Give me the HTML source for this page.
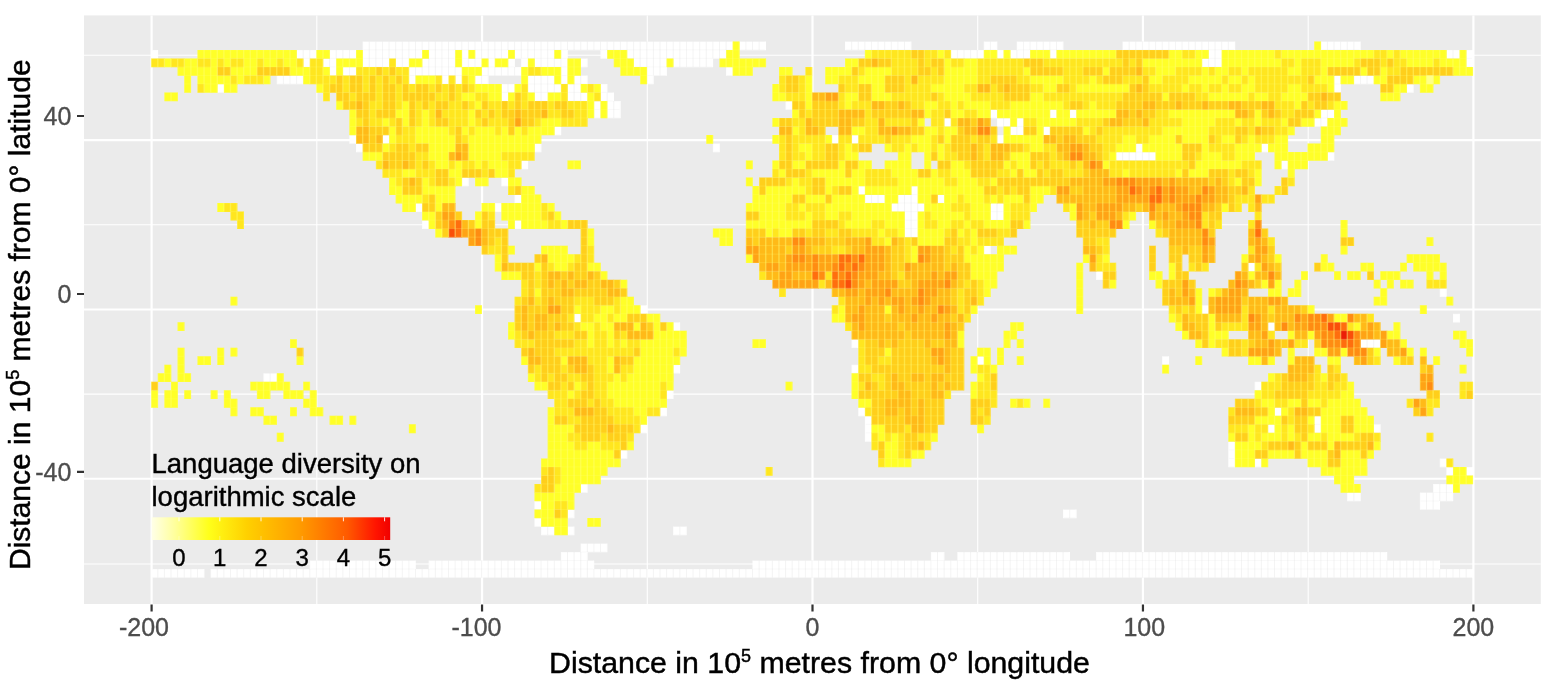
<!DOCTYPE html>
<html lang="en">
<head>
<meta charset="utf-8">
<title>Language diversity on logarithmic scale</title>
<style>
html,body{margin:0;padding:0;background:#fff;}
body{width:1552px;height:692px;overflow:hidden;position:relative;font-family:"Liberation Sans",Arial,Helvetica,sans-serif;}
svg{position:absolute;left:0;top:0;display:block;}
text{font-family:"Liberation Sans",Arial,Helvetica,sans-serif;}
.tick{fill:#4d4d4d;font-size:25px;stroke:#4d4d4d;stroke-width:.35px;}
.axt{fill:#000;font-size:30.3px;stroke:#000;stroke-width:.45px;}
.leg{fill:#000;font-size:27.5px;stroke:#000;stroke-width:.4px;}
.legn{fill:#000;font-size:24px;stroke:#000;stroke-width:.35px;}
</style>
</head>
<body>
<svg width="1552" height="692" viewBox="0 0 1552 692">
<defs>
<linearGradient id="lg" x1="0" x2="1" y1="0" y2="0">
<stop offset="0" stop-color="#ffffe8"/>
<stop offset="0.10" stop-color="#ffff9a"/>
<stop offset="0.24" stop-color="#ffff1a"/>
<stop offset="0.40" stop-color="#ffd000"/>
<stop offset="0.62" stop-color="#ff9c00"/>
<stop offset="0.82" stop-color="#ff5a00"/>
<stop offset="0.94" stop-color="#ff1400"/>
<stop offset="1" stop-color="#f00000"/>
</linearGradient>
</defs>
<rect x="0" y="0" width="1552" height="692" fill="#ffffff"/>
<!-- panel -->
<rect x="84" y="15.4" width="1456.8" height="588.6" fill="#ebebeb"/>
<g stroke="#ffffff" fill="none">
<g stroke-width="1.1">
<path d="M84 55.2H1540.8M84 224.8H1540.8M84 394.1H1540.8M84 564H1540.8"/>
<path d="M316.8 15.4V604M647.3 15.4V604M977.7 15.4V604M1308.2 15.4V604"/>
</g>
<g stroke-width="2.2">
<path d="M84 140.1H1540.8M84 309.5H1540.8M84 478.75H1540.8"/>
<path d="M151.6 15.4V604M482.05 15.4V604M812.5 15.4V604M1142.95 15.4V604M1473.4 15.4V604"/>
</g>
</g>
<g>
<path fill="#ffffff" d="M362.7 41.40h370.3v8.81h-370.3zM739.3 41.40h26.7v8.81h-26.7zM845.0 41.40h66.4v8.81h-66.4zM983.8 41.40h13.5v8.81h-13.5zM1016.8 41.40h46.6v8.81h-46.6zM1122.6 41.40h112.6v8.81h-112.6zM1320.8 41.40h39.9v8.81h-39.9zM151.2 49.91h6.9v8.81h-6.9zM296.6 49.91h20.1v8.81h-20.1zM329.6 49.91h26.7v8.81h-26.7zM362.7 49.91h59.8v8.81h-59.8zM428.7 49.91h26.7v8.81h-26.7zM461.8 49.91h6.9v8.81h-6.9zM475.0 49.91h33.3v8.81h-33.3zM514.6 49.91h39.9v8.81h-39.9zM560.9 49.91h6.9v8.81h-6.9zM600.5 49.91h6.9v8.81h-6.9zM627.0 49.91h99.4v8.81h-99.4zM950.8 49.91h33.3v8.81h-33.3zM997.0 49.91h6.9v8.81h-6.9zM1010.2 49.91h20.1v8.81h-20.1zM1049.9 49.91h6.9v8.81h-6.9zM1208.5 49.91h13.5v8.81h-13.5zM1446.4 49.91h13.5v8.81h-13.5zM1466.2 49.91h6.9v8.81h-6.9zM303.2 58.42h6.9v8.81h-6.9zM323.0 58.42h13.5v8.81h-13.5zM362.7 58.42h26.7v8.81h-26.7zM395.7 58.42h13.5v8.81h-13.5zM422.1 58.42h33.3v8.81h-33.3zM461.8 58.42h20.1v8.81h-20.1zM488.2 58.42h6.9v8.81h-6.9zM508.0 58.42h6.9v8.81h-6.9zM521.2 58.42h6.9v8.81h-6.9zM534.5 58.42h33.3v8.81h-33.3zM580.7 58.42h6.9v8.81h-6.9zM633.6 58.42h33.3v8.81h-33.3zM673.2 58.42h39.9v8.81h-39.9zM1201.9 58.42h20.1v8.81h-20.1zM1466.2 58.42h6.9v8.81h-6.9zM329.6 66.93h6.9v8.81h-6.9zM342.8 66.93h13.5v8.81h-13.5zM408.9 66.93h53.2v8.81h-53.2zM481.6 66.93h39.9v8.81h-39.9zM560.9 66.93h6.9v8.81h-6.9zM646.8 66.93h20.1v8.81h-20.1zM726.1 66.93h6.9v8.81h-6.9zM276.8 75.44h26.7v8.81h-26.7zM408.9 75.44h6.9v8.81h-6.9zM442.0 75.44h6.9v8.81h-6.9zM455.2 75.44h6.9v8.81h-6.9zM475.0 75.44h13.5v8.81h-13.5zM527.9 75.44h26.7v8.81h-26.7zM560.9 75.44h6.9v8.81h-6.9zM574.1 75.44h13.5v8.81h-13.5zM646.8 75.44h6.9v8.81h-6.9zM1334.0 75.44h6.9v8.81h-6.9zM1353.9 75.44h20.1v8.81h-20.1zM217.3 83.95h6.9v8.81h-6.9zM501.4 83.95h13.5v8.81h-13.5zM527.9 83.95h33.3v8.81h-33.3zM567.5 83.95h13.5v8.81h-13.5zM600.5 83.95h6.9v8.81h-6.9zM1334.0 83.95h6.9v8.81h-6.9zM1406.7 83.95h6.9v8.81h-6.9zM501.4 92.46h6.9v8.81h-6.9zM534.5 92.46h13.5v8.81h-13.5zM567.5 92.46h20.1v8.81h-20.1zM600.5 92.46h13.5v8.81h-13.5zM593.9 100.97h6.9v8.81h-6.9zM607.2 100.97h13.5v8.81h-13.5zM785.6 100.97h6.9v8.81h-6.9zM593.9 109.48h6.9v8.81h-6.9zM607.2 109.48h13.5v8.81h-13.5zM990.4 109.48h6.9v8.81h-6.9zM1049.9 109.48h6.9v8.81h-6.9zM1069.7 109.48h6.9v8.81h-6.9zM1320.8 109.48h13.5v8.81h-13.5zM944.2 117.99h6.9v8.81h-6.9zM997.0 117.99h13.5v8.81h-13.5zM1016.8 117.99h6.9v8.81h-6.9zM1314.2 117.99h13.5v8.81h-13.5zM554.3 126.50h6.9v8.81h-6.9zM1010.2 126.50h13.5v8.81h-13.5zM1043.3 126.50h6.9v8.81h-6.9zM349.4 135.01h6.9v8.81h-6.9zM382.5 135.01h6.9v8.81h-6.9zM831.8 135.01h6.9v8.81h-6.9zM851.6 135.01h6.9v8.81h-6.9zM997.0 135.01h6.9v8.81h-6.9zM356.0 143.52h6.9v8.81h-6.9zM534.5 143.52h6.9v8.81h-6.9zM712.9 143.52h6.9v8.81h-6.9zM1135.8 143.52h6.9v8.81h-6.9zM1261.3 143.52h6.9v8.81h-6.9zM1116.0 152.03h39.9v8.81h-39.9zM1327.4 152.03h6.9v8.81h-6.9zM521.2 160.54h6.9v8.81h-6.9zM1281.2 160.54h6.9v8.81h-6.9zM461.8 177.56h6.9v8.81h-6.9zM501.4 177.56h6.9v8.81h-6.9zM858.3 186.07h6.9v8.81h-6.9zM911.1 186.07h6.9v8.81h-6.9zM514.6 194.58h6.9v8.81h-6.9zM864.9 194.58h20.1v8.81h-20.1zM897.9 194.58h20.1v8.81h-20.1zM937.6 194.58h6.9v8.81h-6.9zM415.5 203.09h6.9v8.81h-6.9zM494.8 203.09h6.9v8.81h-6.9zM891.3 203.09h33.3v8.81h-33.3zM990.4 203.09h13.5v8.81h-13.5zM904.5 211.60h13.5v8.81h-13.5zM990.4 211.60h13.5v8.81h-13.5zM422.1 220.11h6.9v8.81h-6.9zM514.6 220.11h6.9v8.81h-6.9zM904.5 220.11h13.5v8.81h-13.5zM904.5 228.62h13.5v8.81h-13.5zM983.8 245.64h6.9v8.81h-6.9zM1248.1 262.66h6.9v8.81h-6.9zM1096.1 271.17h6.9v8.81h-6.9zM1439.8 288.19h6.9v8.81h-6.9zM640.2 305.21h6.9v8.81h-6.9zM1201.9 305.21h6.9v8.81h-6.9zM574.1 313.72h6.9v8.81h-6.9zM1453.0 313.72h6.9v8.81h-6.9zM673.2 322.23h6.9v8.81h-6.9zM1268.0 322.23h6.9v8.81h-6.9zM851.6 339.25h6.9v8.81h-6.9zM1360.5 339.25h20.1v8.81h-20.1zM977.2 356.27h6.9v8.81h-6.9zM1162.2 356.27h6.9v8.81h-6.9zM673.2 364.78h6.9v8.81h-6.9zM851.6 364.78h6.9v8.81h-6.9zM263.5 373.29h13.5v8.81h-13.5zM1254.7 381.80h6.9v8.81h-6.9zM666.6 390.31h6.9v8.81h-6.9zM660.0 407.33h6.9v8.81h-6.9zM858.3 407.33h6.9v8.81h-6.9zM1274.6 407.33h6.9v8.81h-6.9zM864.9 415.84h6.9v8.81h-6.9zM1314.2 415.84h6.9v8.81h-6.9zM640.2 424.35h6.9v8.81h-6.9zM864.9 424.35h6.9v8.81h-6.9zM1268.0 424.35h6.9v8.81h-6.9zM1314.2 424.35h6.9v8.81h-6.9zM1373.7 424.35h6.9v8.81h-6.9zM864.9 432.86h6.9v8.81h-6.9zM1228.3 441.37h6.9v8.81h-6.9zM620.4 449.88h6.9v8.81h-6.9zM1228.3 449.88h6.9v8.81h-6.9zM1228.3 458.39h6.9v8.81h-6.9zM1254.7 458.39h6.9v8.81h-6.9zM1439.8 458.39h6.9v8.81h-6.9zM1446.4 466.90h6.9v8.81h-6.9zM1466.2 466.90h6.9v8.81h-6.9zM580.7 483.92h6.9v8.81h-6.9zM1433.2 483.92h20.1v8.81h-20.1zM1347.2 492.43h13.5v8.81h-13.5zM1419.9 492.43h33.3v8.81h-33.3zM534.5 500.94h6.9v8.81h-6.9zM1419.9 500.94h20.1v8.81h-20.1zM567.5 509.45h6.9v8.81h-6.9zM1063.1 509.45h13.5v8.81h-13.5zM534.5 517.96h6.9v8.81h-6.9zM541.1 526.47h13.5v8.81h-13.5zM567.5 526.47h6.9v8.81h-6.9zM673.2 526.47h13.5v8.81h-13.5zM580.7 543.49h26.7v8.81h-26.7zM560.9 552.00h26.7v8.81h-26.7zM930.9 552.00h13.5v8.81h-13.5zM957.4 552.00h112.6v8.81h-112.6zM1096.1 552.00h291.1v8.81h-291.1zM309.8 560.51h106.0v8.81h-106.0zM428.7 560.51h165.5v8.81h-165.5zM752.5 560.51h687.5v8.81h-687.5zM151.2 569.02h53.2v8.81h-53.2zM210.7 569.02h1262.4v8.81h-1262.4z"/>
<path fill="#ffff28" d="M732.7 41.40h6.9v8.81h-6.9zM1314.2 41.40h6.9v8.81h-6.9zM197.5 49.91h99.4v8.81h-99.4zM316.4 49.91h13.5v8.81h-13.5zM356.0 49.91h6.9v8.81h-6.9zM422.1 49.91h6.9v8.81h-6.9zM455.2 49.91h6.9v8.81h-6.9zM468.4 49.91h6.9v8.81h-6.9zM508.0 49.91h6.9v8.81h-6.9zM554.3 49.91h6.9v8.81h-6.9zM607.2 49.91h20.1v8.81h-20.1zM726.1 49.91h13.5v8.81h-13.5zM864.9 49.91h6.9v8.81h-6.9zM937.6 49.91h6.9v8.81h-6.9zM983.8 49.91h13.5v8.81h-13.5zM1003.6 49.91h6.9v8.81h-6.9zM1030.1 49.91h20.1v8.81h-20.1zM1056.5 49.91h59.8v8.81h-59.8zM1168.8 49.91h13.5v8.81h-13.5zM1195.3 49.91h13.5v8.81h-13.5zM1221.7 49.91h53.2v8.81h-53.2zM1281.2 49.91h92.8v8.81h-92.8zM1386.9 49.91h6.9v8.81h-6.9zM1400.1 49.91h46.6v8.81h-46.6zM1459.6 49.91h6.9v8.81h-6.9zM164.4 58.42h6.9v8.81h-6.9zM184.2 58.42h13.5v8.81h-13.5zM210.7 58.42h6.9v8.81h-6.9zM223.9 58.42h6.9v8.81h-6.9zM243.7 58.42h13.5v8.81h-13.5zM263.5 58.42h13.5v8.81h-13.5zM283.4 58.42h13.5v8.81h-13.5zM336.2 58.42h26.7v8.81h-26.7zM408.9 58.42h13.5v8.81h-13.5zM455.2 58.42h6.9v8.81h-6.9zM481.6 58.42h6.9v8.81h-6.9zM494.8 58.42h13.5v8.81h-13.5zM527.9 58.42h6.9v8.81h-6.9zM567.5 58.42h13.5v8.81h-13.5zM613.8 58.42h20.1v8.81h-20.1zM666.6 58.42h6.9v8.81h-6.9zM719.5 58.42h46.6v8.81h-46.6zM845.0 58.42h13.5v8.81h-13.5zM944.2 58.42h6.9v8.81h-6.9zM964.0 58.42h13.5v8.81h-13.5zM1142.4 58.42h59.8v8.81h-59.8zM1221.7 58.42h59.8v8.81h-59.8zM1294.4 58.42h6.9v8.81h-6.9zM1320.8 58.42h33.3v8.81h-33.3zM1406.7 58.42h26.7v8.81h-26.7zM1439.8 58.42h26.7v8.81h-26.7zM177.6 66.93h39.9v8.81h-39.9zM230.5 66.93h26.7v8.81h-26.7zM290.0 66.93h20.1v8.81h-20.1zM323.0 66.93h6.9v8.81h-6.9zM336.2 66.93h6.9v8.81h-6.9zM461.8 66.93h20.1v8.81h-20.1zM521.2 66.93h6.9v8.81h-6.9zM541.1 66.93h20.1v8.81h-20.1zM567.5 66.93h13.5v8.81h-13.5zM620.4 66.93h26.7v8.81h-26.7zM732.7 66.93h20.1v8.81h-20.1zM779.0 66.93h13.5v8.81h-13.5zM825.2 66.93h26.7v8.81h-26.7zM864.9 66.93h26.7v8.81h-26.7zM944.2 66.93h33.3v8.81h-33.3zM1023.5 66.93h6.9v8.81h-6.9zM1102.8 66.93h6.9v8.81h-6.9zM1155.6 66.93h20.1v8.81h-20.1zM1201.9 66.93h6.9v8.81h-6.9zM1215.1 66.93h13.5v8.81h-13.5zM1241.5 66.93h6.9v8.81h-6.9zM1287.8 66.93h13.5v8.81h-13.5zM1320.8 66.93h6.9v8.81h-6.9zM1360.5 66.93h6.9v8.81h-6.9zM1380.3 66.93h6.9v8.81h-6.9zM1453.0 66.93h20.1v8.81h-20.1zM184.2 75.44h6.9v8.81h-6.9zM197.5 75.44h33.3v8.81h-33.3zM237.1 75.44h6.9v8.81h-6.9zM263.5 75.44h6.9v8.81h-6.9zM303.2 75.44h6.9v8.81h-6.9zM415.5 75.44h20.1v8.81h-20.1zM468.4 75.44h6.9v8.81h-6.9zM521.2 75.44h6.9v8.81h-6.9zM554.3 75.44h6.9v8.81h-6.9zM567.5 75.44h6.9v8.81h-6.9zM640.2 75.44h6.9v8.81h-6.9zM805.4 75.44h6.9v8.81h-6.9zM825.2 75.44h13.5v8.81h-13.5zM858.3 75.44h26.7v8.81h-26.7zM944.2 75.44h33.3v8.81h-33.3zM1030.1 75.44h33.3v8.81h-33.3zM1089.5 75.44h6.9v8.81h-6.9zM1149.0 75.44h13.5v8.81h-13.5zM1188.7 75.44h33.3v8.81h-33.3zM1228.3 75.44h13.5v8.81h-13.5zM1248.1 75.44h6.9v8.81h-6.9zM1314.2 75.44h20.1v8.81h-20.1zM1340.6 75.44h13.5v8.81h-13.5zM1373.7 75.44h13.5v8.81h-13.5zM1413.3 75.44h13.5v8.81h-13.5zM1433.2 75.44h6.9v8.81h-6.9zM184.2 83.95h6.9v8.81h-6.9zM204.1 83.95h13.5v8.81h-13.5zM223.9 83.95h13.5v8.81h-13.5zM316.4 83.95h6.9v8.81h-6.9zM475.0 83.95h26.7v8.81h-26.7zM514.6 83.95h6.9v8.81h-6.9zM580.7 83.95h6.9v8.81h-6.9zM593.9 83.95h6.9v8.81h-6.9zM772.4 83.95h6.9v8.81h-6.9zM805.4 83.95h6.9v8.81h-6.9zM871.5 83.95h13.5v8.81h-13.5zM930.9 83.95h33.3v8.81h-33.3zM1043.3 83.95h13.5v8.81h-13.5zM1076.3 83.95h53.2v8.81h-53.2zM1182.0 83.95h6.9v8.81h-6.9zM1201.9 83.95h6.9v8.81h-6.9zM1221.7 83.95h6.9v8.81h-6.9zM1241.5 83.95h13.5v8.81h-13.5zM1287.8 83.95h13.5v8.81h-13.5zM1327.4 83.95h6.9v8.81h-6.9zM1393.5 83.95h13.5v8.81h-13.5zM1419.9 83.95h13.5v8.81h-13.5zM164.4 92.46h13.5v8.81h-13.5zM461.8 92.46h13.5v8.81h-13.5zM488.2 92.46h13.5v8.81h-13.5zM508.0 92.46h6.9v8.81h-6.9zM527.9 92.46h6.9v8.81h-6.9zM547.7 92.46h13.5v8.81h-13.5zM587.3 92.46h6.9v8.81h-6.9zM772.4 92.46h13.5v8.81h-13.5zM805.4 92.46h6.9v8.81h-6.9zM845.0 92.46h13.5v8.81h-13.5zM871.5 92.46h20.1v8.81h-20.1zM944.2 92.46h26.7v8.81h-26.7zM1030.1 92.46h13.5v8.81h-13.5zM1162.2 92.46h6.9v8.81h-6.9zM1208.5 92.46h39.9v8.81h-39.9zM1254.7 92.46h13.5v8.81h-13.5zM1281.2 92.46h26.7v8.81h-26.7zM1380.3 92.46h20.1v8.81h-20.1zM336.2 100.97h6.9v8.81h-6.9zM402.3 100.97h6.9v8.81h-6.9zM475.0 100.97h6.9v8.81h-6.9zM587.3 100.97h6.9v8.81h-6.9zM600.5 100.97h6.9v8.81h-6.9zM805.4 100.97h6.9v8.81h-6.9zM845.0 100.97h6.9v8.81h-6.9zM924.3 100.97h13.5v8.81h-13.5zM950.8 100.97h6.9v8.81h-6.9zM964.0 100.97h26.7v8.81h-26.7zM1010.2 100.97h53.2v8.81h-53.2zM1089.5 100.97h6.9v8.81h-6.9zM1294.4 100.97h6.9v8.81h-6.9zM1334.0 100.97h13.5v8.81h-13.5zM349.4 109.48h6.9v8.81h-6.9zM395.7 109.48h13.5v8.81h-13.5zM422.1 109.48h6.9v8.81h-6.9zM468.4 109.48h6.9v8.81h-6.9zM587.3 109.48h6.9v8.81h-6.9zM600.5 109.48h6.9v8.81h-6.9zM792.2 109.48h6.9v8.81h-6.9zM924.3 109.48h6.9v8.81h-6.9zM950.8 109.48h13.5v8.81h-13.5zM977.2 109.48h13.5v8.81h-13.5zM997.0 109.48h53.2v8.81h-53.2zM1056.5 109.48h13.5v8.81h-13.5zM1076.3 109.48h39.9v8.81h-39.9zM1168.8 109.48h66.4v8.81h-66.4zM1254.7 109.48h6.9v8.81h-6.9zM1314.2 109.48h6.9v8.81h-6.9zM1334.0 109.48h6.9v8.81h-6.9zM349.4 117.99h6.9v8.81h-6.9zM382.5 117.99h6.9v8.81h-6.9zM402.3 117.99h6.9v8.81h-6.9zM422.1 117.99h6.9v8.81h-6.9zM468.4 117.99h6.9v8.81h-6.9zM541.1 117.99h20.1v8.81h-20.1zM772.4 117.99h6.9v8.81h-6.9zM917.7 117.99h6.9v8.81h-6.9zM1010.2 117.99h6.9v8.81h-6.9zM1036.7 117.99h39.9v8.81h-39.9zM1182.0 117.99h33.3v8.81h-33.3zM1234.9 117.99h6.9v8.81h-6.9zM1254.7 117.99h6.9v8.81h-6.9zM1281.2 117.99h6.9v8.81h-6.9zM1301.0 117.99h13.5v8.81h-13.5zM1327.4 117.99h20.1v8.81h-20.1zM349.4 126.50h6.9v8.81h-6.9zM389.1 126.50h6.9v8.81h-6.9zM415.5 126.50h33.3v8.81h-33.3zM461.8 126.50h6.9v8.81h-6.9zM475.0 126.50h20.1v8.81h-20.1zM501.4 126.50h6.9v8.81h-6.9zM514.6 126.50h6.9v8.81h-6.9zM527.9 126.50h26.7v8.81h-26.7zM792.2 126.50h6.9v8.81h-6.9zM851.6 126.50h13.5v8.81h-13.5zM924.3 126.50h13.5v8.81h-13.5zM944.2 126.50h13.5v8.81h-13.5zM1003.6 126.50h6.9v8.81h-6.9zM1036.7 126.50h6.9v8.81h-6.9zM1082.9 126.50h6.9v8.81h-6.9zM1162.2 126.50h46.6v8.81h-46.6zM1287.8 126.50h6.9v8.81h-6.9zM1320.8 126.50h20.1v8.81h-20.1zM389.1 135.01h6.9v8.81h-6.9zM415.5 135.01h39.9v8.81h-39.9zM468.4 135.01h73.0v8.81h-73.0zM706.3 135.01h6.9v8.81h-6.9zM772.4 135.01h6.9v8.81h-6.9zM825.2 135.01h6.9v8.81h-6.9zM911.1 135.01h20.1v8.81h-20.1zM944.2 135.01h6.9v8.81h-6.9zM1003.6 135.01h39.9v8.81h-39.9zM1122.6 135.01h13.5v8.81h-13.5zM1149.0 135.01h26.7v8.81h-26.7zM1182.0 135.01h26.7v8.81h-26.7zM1221.7 135.01h13.5v8.81h-13.5zM1248.1 135.01h6.9v8.81h-6.9zM1274.6 135.01h13.5v8.81h-13.5zM1320.8 135.01h13.5v8.81h-13.5zM382.5 143.52h6.9v8.81h-6.9zM428.7 143.52h26.7v8.81h-26.7zM468.4 143.52h66.4v8.81h-66.4zM798.8 143.52h13.5v8.81h-13.5zM845.0 143.52h6.9v8.81h-6.9zM884.7 143.52h6.9v8.81h-6.9zM904.5 143.52h6.9v8.81h-6.9zM917.7 143.52h13.5v8.81h-13.5zM937.6 143.52h6.9v8.81h-6.9zM1030.1 143.52h13.5v8.81h-13.5zM1116.0 143.52h20.1v8.81h-20.1zM1142.4 143.52h39.9v8.81h-39.9zM1201.9 143.52h6.9v8.81h-6.9zM1234.9 143.52h26.7v8.81h-26.7zM1268.0 143.52h20.1v8.81h-20.1zM1307.6 143.52h26.7v8.81h-26.7zM362.7 152.03h20.1v8.81h-20.1zM428.7 152.03h20.1v8.81h-20.1zM468.4 152.03h33.3v8.81h-33.3zM805.4 152.03h6.9v8.81h-6.9zM845.0 152.03h13.5v8.81h-13.5zM897.9 152.03h13.5v8.81h-13.5zM924.3 152.03h6.9v8.81h-6.9zM937.6 152.03h6.9v8.81h-6.9zM1010.2 152.03h20.1v8.81h-20.1zM1109.4 152.03h6.9v8.81h-6.9zM1155.6 152.03h26.7v8.81h-26.7zM1201.9 152.03h20.1v8.81h-20.1zM1234.9 152.03h20.1v8.81h-20.1zM1274.6 152.03h53.2v8.81h-53.2zM435.3 160.54h13.5v8.81h-13.5zM455.2 160.54h6.9v8.81h-6.9zM475.0 160.54h6.9v8.81h-6.9zM488.2 160.54h20.1v8.81h-20.1zM567.5 160.54h13.5v8.81h-13.5zM745.9 160.54h6.9v8.81h-6.9zM772.4 160.54h6.9v8.81h-6.9zM792.2 160.54h13.5v8.81h-13.5zM838.4 160.54h6.9v8.81h-6.9zM858.3 160.54h13.5v8.81h-13.5zM884.7 160.54h26.7v8.81h-26.7zM924.3 160.54h6.9v8.81h-6.9zM950.8 160.54h13.5v8.81h-13.5zM1003.6 160.54h6.9v8.81h-6.9zM1016.8 160.54h13.5v8.81h-13.5zM1102.8 160.54h6.9v8.81h-6.9zM1195.3 160.54h46.6v8.81h-46.6zM1274.6 160.54h6.9v8.81h-6.9zM1287.8 160.54h20.1v8.81h-20.1zM402.3 169.05h13.5v8.81h-13.5zM448.6 169.05h13.5v8.81h-13.5zM494.8 169.05h13.5v8.81h-13.5zM779.0 169.05h6.9v8.81h-6.9zM812.0 169.05h33.3v8.81h-33.3zM851.6 169.05h13.5v8.81h-13.5zM891.3 169.05h26.7v8.81h-26.7zM930.9 169.05h6.9v8.81h-6.9zM950.8 169.05h20.1v8.81h-20.1zM1010.2 169.05h6.9v8.81h-6.9zM1023.5 169.05h13.5v8.81h-13.5zM1122.6 169.05h6.9v8.81h-6.9zM1175.4 169.05h6.9v8.81h-6.9zM1188.7 169.05h20.1v8.81h-20.1zM1254.7 169.05h6.9v8.81h-6.9zM1287.8 169.05h6.9v8.81h-6.9zM389.1 177.56h6.9v8.81h-6.9zM422.1 177.56h6.9v8.81h-6.9zM455.2 177.56h6.9v8.81h-6.9zM475.0 177.56h13.5v8.81h-13.5zM508.0 177.56h13.5v8.81h-13.5zM745.9 177.56h6.9v8.81h-6.9zM792.2 177.56h6.9v8.81h-6.9zM825.2 177.56h39.9v8.81h-39.9zM897.9 177.56h46.6v8.81h-46.6zM957.4 177.56h20.1v8.81h-20.1zM990.4 177.56h6.9v8.81h-6.9zM1234.9 177.56h6.9v8.81h-6.9zM1254.7 177.56h6.9v8.81h-6.9zM389.1 186.07h13.5v8.81h-13.5zM422.1 186.07h33.3v8.81h-33.3zM521.2 186.07h13.5v8.81h-13.5zM752.5 186.07h6.9v8.81h-6.9zM765.7 186.07h39.9v8.81h-39.9zM825.2 186.07h6.9v8.81h-6.9zM851.6 186.07h6.9v8.81h-6.9zM864.9 186.07h46.6v8.81h-46.6zM917.7 186.07h66.4v8.81h-66.4zM1030.1 186.07h20.1v8.81h-20.1zM395.7 194.58h26.7v8.81h-26.7zM435.3 194.58h20.1v8.81h-20.1zM521.2 194.58h20.1v8.81h-20.1zM752.5 194.58h39.9v8.81h-39.9zM805.4 194.58h20.1v8.81h-20.1zM831.8 194.58h33.3v8.81h-33.3zM884.7 194.58h13.5v8.81h-13.5zM917.7 194.58h13.5v8.81h-13.5zM944.2 194.58h13.5v8.81h-13.5zM964.0 194.58h20.1v8.81h-20.1zM990.4 194.58h6.9v8.81h-6.9zM1003.6 194.58h20.1v8.81h-20.1zM1030.1 194.58h13.5v8.81h-13.5zM217.3 203.09h6.9v8.81h-6.9zM402.3 203.09h13.5v8.81h-13.5zM435.3 203.09h6.9v8.81h-6.9zM481.6 203.09h13.5v8.81h-13.5zM501.4 203.09h39.9v8.81h-39.9zM547.7 203.09h6.9v8.81h-6.9zM745.9 203.09h39.9v8.81h-39.9zM798.8 203.09h6.9v8.81h-6.9zM825.2 203.09h66.4v8.81h-66.4zM924.3 203.09h26.7v8.81h-26.7zM970.6 203.09h20.1v8.81h-20.1zM1003.6 203.09h6.9v8.81h-6.9zM1030.1 203.09h6.9v8.81h-6.9zM1069.7 203.09h6.9v8.81h-6.9zM1221.7 203.09h6.9v8.81h-6.9zM422.1 211.60h13.5v8.81h-13.5zM475.0 211.60h6.9v8.81h-6.9zM501.4 211.60h39.9v8.81h-39.9zM554.3 211.60h6.9v8.81h-6.9zM759.1 211.60h26.7v8.81h-26.7zM805.4 211.60h6.9v8.81h-6.9zM825.2 211.60h13.5v8.81h-13.5zM851.6 211.60h53.2v8.81h-53.2zM917.7 211.60h6.9v8.81h-6.9zM930.9 211.60h33.3v8.81h-33.3zM970.6 211.60h20.1v8.81h-20.1zM1003.6 211.60h6.9v8.81h-6.9zM1069.7 211.60h6.9v8.81h-6.9zM1129.2 211.60h6.9v8.81h-6.9zM428.7 220.11h6.9v8.81h-6.9zM475.0 220.11h6.9v8.81h-6.9zM508.0 220.11h6.9v8.81h-6.9zM521.2 220.11h26.7v8.81h-26.7zM560.9 220.11h6.9v8.81h-6.9zM745.9 220.11h66.4v8.81h-66.4zM845.0 220.11h26.7v8.81h-26.7zM884.7 220.11h20.1v8.81h-20.1zM917.7 220.11h6.9v8.81h-6.9zM937.6 220.11h13.5v8.81h-13.5zM964.0 220.11h6.9v8.81h-6.9zM983.8 220.11h26.7v8.81h-26.7zM1023.5 220.11h6.9v8.81h-6.9zM1122.6 220.11h6.9v8.81h-6.9zM1149.0 220.11h6.9v8.81h-6.9zM1340.6 220.11h6.9v8.81h-6.9zM435.3 228.62h6.9v8.81h-6.9zM587.3 228.62h6.9v8.81h-6.9zM712.9 228.62h20.1v8.81h-20.1zM765.7 228.62h6.9v8.81h-6.9zM779.0 228.62h13.5v8.81h-13.5zM878.1 228.62h6.9v8.81h-6.9zM897.9 228.62h6.9v8.81h-6.9zM917.7 228.62h26.7v8.81h-26.7zM957.4 228.62h6.9v8.81h-6.9zM970.6 228.62h6.9v8.81h-6.9zM1340.6 228.62h6.9v8.81h-6.9zM587.3 237.13h6.9v8.81h-6.9zM719.5 237.13h13.5v8.81h-13.5zM884.7 237.13h6.9v8.81h-6.9zM917.7 237.13h26.7v8.81h-26.7zM970.6 237.13h6.9v8.81h-6.9zM1426.5 237.13h6.9v8.81h-6.9zM508.0 245.64h6.9v8.81h-6.9zM541.1 245.64h26.7v8.81h-26.7zM911.1 245.64h6.9v8.81h-6.9zM964.0 245.64h6.9v8.81h-6.9zM977.2 245.64h6.9v8.81h-6.9zM997.0 245.64h20.1v8.81h-20.1zM1340.6 245.64h6.9v8.81h-6.9zM494.8 254.15h6.9v8.81h-6.9zM547.7 254.15h26.7v8.81h-26.7zM745.9 254.15h6.9v8.81h-6.9zM911.1 254.15h6.9v8.81h-6.9zM964.0 254.15h39.9v8.81h-39.9zM1082.9 254.15h6.9v8.81h-6.9zM1102.8 254.15h6.9v8.81h-6.9zM1241.5 254.15h6.9v8.81h-6.9zM1274.6 254.15h6.9v8.81h-6.9zM1320.8 254.15h6.9v8.81h-6.9zM1406.7 254.15h33.3v8.81h-33.3zM494.8 262.66h6.9v8.81h-6.9zM534.5 262.66h6.9v8.81h-6.9zM554.3 262.66h13.5v8.81h-13.5zM587.3 262.66h13.5v8.81h-13.5zM970.6 262.66h33.3v8.81h-33.3zM1076.3 262.66h6.9v8.81h-6.9zM1168.8 262.66h6.9v8.81h-6.9zM1320.8 262.66h13.5v8.81h-13.5zM1360.5 262.66h13.5v8.81h-13.5zM1400.1 262.66h6.9v8.81h-6.9zM1413.3 262.66h33.3v8.81h-33.3zM501.4 271.17h20.1v8.81h-20.1zM600.5 271.17h6.9v8.81h-6.9zM970.6 271.17h26.7v8.81h-26.7zM1076.3 271.17h6.9v8.81h-6.9zM1149.0 271.17h13.5v8.81h-13.5zM1168.8 271.17h6.9v8.81h-6.9zM1248.1 271.17h6.9v8.81h-6.9zM1301.0 271.17h6.9v8.81h-6.9zM1334.0 271.17h6.9v8.81h-6.9zM1347.2 271.17h13.5v8.81h-13.5zM1380.3 271.17h20.1v8.81h-20.1zM1426.5 271.17h6.9v8.81h-6.9zM1439.8 271.17h6.9v8.81h-6.9zM620.4 279.68h6.9v8.81h-6.9zM983.8 279.68h13.5v8.81h-13.5zM1076.3 279.68h6.9v8.81h-6.9zM1109.4 279.68h6.9v8.81h-6.9zM1155.6 279.68h6.9v8.81h-6.9zM1261.3 279.68h6.9v8.81h-6.9zM1274.6 279.68h6.9v8.81h-6.9zM1294.4 279.68h6.9v8.81h-6.9zM1373.7 279.68h6.9v8.81h-6.9zM1386.9 279.68h6.9v8.81h-6.9zM1400.1 279.68h13.5v8.81h-13.5zM534.5 288.19h6.9v8.81h-6.9zM983.8 288.19h6.9v8.81h-6.9zM1076.3 288.19h6.9v8.81h-6.9zM1195.3 288.19h6.9v8.81h-6.9zM1208.5 288.19h6.9v8.81h-6.9zM1268.0 288.19h13.5v8.81h-13.5zM1287.8 288.19h13.5v8.81h-13.5zM1380.3 288.19h6.9v8.81h-6.9zM230.5 296.70h6.9v8.81h-6.9zM620.4 296.70h13.5v8.81h-13.5zM1076.3 296.70h6.9v8.81h-6.9zM1195.3 296.70h6.9v8.81h-6.9zM1373.7 296.70h13.5v8.81h-13.5zM1446.4 296.70h6.9v8.81h-6.9zM475.0 305.21h6.9v8.81h-6.9zM574.1 305.21h6.9v8.81h-6.9zM600.5 305.21h13.5v8.81h-13.5zM620.4 305.21h20.1v8.81h-20.1zM838.4 305.21h6.9v8.81h-6.9zM884.7 305.21h6.9v8.81h-6.9zM970.6 305.21h6.9v8.81h-6.9zM1076.3 305.21h6.9v8.81h-6.9zM1195.3 305.21h6.9v8.81h-6.9zM1307.6 305.21h6.9v8.81h-6.9zM1419.9 305.21h6.9v8.81h-6.9zM593.9 313.72h13.5v8.81h-13.5zM613.8 313.72h13.5v8.81h-13.5zM646.8 313.72h13.5v8.81h-13.5zM831.8 313.72h13.5v8.81h-13.5zM1168.8 313.72h6.9v8.81h-6.9zM1208.5 313.72h6.9v8.81h-6.9zM1334.0 313.72h13.5v8.81h-13.5zM177.6 322.23h6.9v8.81h-6.9zM508.0 322.23h6.9v8.81h-6.9zM580.7 322.23h13.5v8.81h-13.5zM600.5 322.23h13.5v8.81h-13.5zM633.6 322.23h6.9v8.81h-6.9zM653.4 322.23h6.9v8.81h-6.9zM666.6 322.23h6.9v8.81h-6.9zM1010.2 322.23h13.5v8.81h-13.5zM1175.4 322.23h6.9v8.81h-6.9zM1208.5 322.23h6.9v8.81h-6.9zM1353.9 322.23h6.9v8.81h-6.9zM1393.5 322.23h6.9v8.81h-6.9zM508.0 330.74h6.9v8.81h-6.9zM587.3 330.74h6.9v8.81h-6.9zM607.2 330.74h6.9v8.81h-6.9zM653.4 330.74h33.3v8.81h-33.3zM957.4 330.74h6.9v8.81h-6.9zM1003.6 330.74h13.5v8.81h-13.5zM1182.0 330.74h6.9v8.81h-6.9zM1208.5 330.74h20.1v8.81h-20.1zM1287.8 330.74h6.9v8.81h-6.9zM1307.6 330.74h6.9v8.81h-6.9zM1386.9 330.74h13.5v8.81h-13.5zM1453.0 330.74h13.5v8.81h-13.5zM290.0 339.25h6.9v8.81h-6.9zM587.3 339.25h6.9v8.81h-6.9zM607.2 339.25h6.9v8.81h-6.9zM620.4 339.25h6.9v8.81h-6.9zM640.2 339.25h46.6v8.81h-46.6zM752.5 339.25h13.5v8.81h-13.5zM957.4 339.25h6.9v8.81h-6.9zM1003.6 339.25h6.9v8.81h-6.9zM1016.8 339.25h6.9v8.81h-6.9zM1195.3 339.25h6.9v8.81h-6.9zM1208.5 339.25h6.9v8.81h-6.9zM1400.1 339.25h6.9v8.81h-6.9zM1459.6 339.25h13.5v8.81h-13.5zM177.6 347.76h6.9v8.81h-6.9zM217.3 347.76h6.9v8.81h-6.9zM230.5 347.76h6.9v8.81h-6.9zM640.2 347.76h33.3v8.81h-33.3zM679.8 347.76h6.9v8.81h-6.9zM884.7 347.76h6.9v8.81h-6.9zM977.2 347.76h13.5v8.81h-13.5zM997.0 347.76h6.9v8.81h-6.9zM1221.7 347.76h6.9v8.81h-6.9zM1287.8 347.76h6.9v8.81h-6.9zM1314.2 347.76h13.5v8.81h-13.5zM1340.6 347.76h6.9v8.81h-6.9zM1373.7 347.76h6.9v8.81h-6.9zM1406.7 347.76h6.9v8.81h-6.9zM1419.9 347.76h6.9v8.81h-6.9zM1466.2 347.76h6.9v8.81h-6.9zM177.6 356.27h6.9v8.81h-6.9zM197.5 356.27h13.5v8.81h-13.5zM217.3 356.27h6.9v8.81h-6.9zM296.6 356.27h6.9v8.81h-6.9zM521.2 356.27h6.9v8.81h-6.9zM560.9 356.27h6.9v8.81h-6.9zM607.2 356.27h6.9v8.81h-6.9zM633.6 356.27h46.6v8.81h-46.6zM970.6 356.27h6.9v8.81h-6.9zM983.8 356.27h6.9v8.81h-6.9zM997.0 356.27h6.9v8.81h-6.9zM1016.8 356.27h6.9v8.81h-6.9zM1195.3 356.27h6.9v8.81h-6.9zM1248.1 356.27h13.5v8.81h-13.5zM1268.0 356.27h6.9v8.81h-6.9zM1287.8 356.27h6.9v8.81h-6.9zM1327.4 356.27h13.5v8.81h-13.5zM1393.5 356.27h6.9v8.81h-6.9zM1433.2 356.27h6.9v8.81h-6.9zM164.4 364.78h6.9v8.81h-6.9zM177.6 364.78h6.9v8.81h-6.9zM607.2 364.78h6.9v8.81h-6.9zM633.6 364.78h39.9v8.81h-39.9zM970.6 364.78h6.9v8.81h-6.9zM990.4 364.78h6.9v8.81h-6.9zM1162.2 364.78h6.9v8.81h-6.9zM1459.6 364.78h6.9v8.81h-6.9zM157.8 373.29h13.5v8.81h-13.5zM177.6 373.29h13.5v8.81h-13.5zM276.8 373.29h6.9v8.81h-6.9zM527.9 373.29h6.9v8.81h-6.9zM613.8 373.29h6.9v8.81h-6.9zM627.0 373.29h46.6v8.81h-46.6zM851.6 373.29h6.9v8.81h-6.9zM977.2 373.29h6.9v8.81h-6.9zM1268.0 373.29h6.9v8.81h-6.9zM1320.8 373.29h6.9v8.81h-6.9zM171.0 381.80h6.9v8.81h-6.9zM250.3 381.80h39.9v8.81h-39.9zM303.2 381.80h6.9v8.81h-6.9zM534.5 381.80h13.5v8.81h-13.5zM574.1 381.80h6.9v8.81h-6.9zM607.2 381.80h53.2v8.81h-53.2zM666.6 381.80h6.9v8.81h-6.9zM785.6 381.80h6.9v8.81h-6.9zM851.6 381.80h6.9v8.81h-6.9zM970.6 381.80h6.9v8.81h-6.9zM1347.2 381.80h6.9v8.81h-6.9zM151.2 390.31h6.9v8.81h-6.9zM164.4 390.31h13.5v8.81h-13.5zM184.2 390.31h6.9v8.81h-6.9zM210.7 390.31h6.9v8.81h-6.9zM223.9 390.31h6.9v8.81h-6.9zM256.9 390.31h13.5v8.81h-13.5zM283.4 390.31h20.1v8.81h-20.1zM309.8 390.31h6.9v8.81h-6.9zM567.5 390.31h6.9v8.81h-6.9zM607.2 390.31h53.2v8.81h-53.2zM851.6 390.31h6.9v8.81h-6.9zM970.6 390.31h6.9v8.81h-6.9zM1254.7 390.31h6.9v8.81h-6.9zM1340.6 390.31h13.5v8.81h-13.5zM151.2 398.82h6.9v8.81h-6.9zM164.4 398.82h13.5v8.81h-13.5zM223.9 398.82h13.5v8.81h-13.5zM303.2 398.82h13.5v8.81h-13.5zM613.8 398.82h53.2v8.81h-53.2zM858.3 398.82h13.5v8.81h-13.5zM1010.2 398.82h6.9v8.81h-6.9zM1023.5 398.82h6.9v8.81h-6.9zM1043.3 398.82h6.9v8.81h-6.9zM1261.3 398.82h13.5v8.81h-13.5zM1287.8 398.82h13.5v8.81h-13.5zM1307.6 398.82h13.5v8.81h-13.5zM1327.4 398.82h33.3v8.81h-33.3zM230.5 407.33h6.9v8.81h-6.9zM250.3 407.33h13.5v8.81h-13.5zM290.0 407.33h6.9v8.81h-6.9zM309.8 407.33h13.5v8.81h-13.5zM547.7 407.33h6.9v8.81h-6.9zM633.6 407.33h13.5v8.81h-13.5zM1268.0 407.33h6.9v8.81h-6.9zM1281.2 407.33h6.9v8.81h-6.9zM1320.8 407.33h46.6v8.81h-46.6zM263.5 415.84h13.5v8.81h-13.5zM329.6 415.84h13.5v8.81h-13.5zM349.4 415.84h6.9v8.81h-6.9zM547.7 415.84h6.9v8.81h-6.9zM640.2 415.84h6.9v8.81h-6.9zM1254.7 415.84h26.7v8.81h-26.7zM1307.6 415.84h6.9v8.81h-6.9zM1320.8 415.84h20.1v8.81h-20.1zM1353.9 415.84h20.1v8.81h-20.1zM408.9 424.35h6.9v8.81h-6.9zM547.7 424.35h26.7v8.81h-26.7zM871.5 424.35h13.5v8.81h-13.5zM977.2 424.35h6.9v8.81h-6.9zM1248.1 424.35h6.9v8.81h-6.9zM1274.6 424.35h6.9v8.81h-6.9zM1287.8 424.35h6.9v8.81h-6.9zM1320.8 424.35h20.1v8.81h-20.1zM1353.9 424.35h20.1v8.81h-20.1zM276.8 432.86h6.9v8.81h-6.9zM547.7 432.86h20.1v8.81h-20.1zM878.1 432.86h6.9v8.81h-6.9zM891.3 432.86h6.9v8.81h-6.9zM930.9 432.86h6.9v8.81h-6.9zM1228.3 432.86h6.9v8.81h-6.9zM1248.1 432.86h6.9v8.81h-6.9zM1261.3 432.86h20.1v8.81h-20.1zM1287.8 432.86h6.9v8.81h-6.9zM1307.6 432.86h13.5v8.81h-13.5zM1327.4 432.86h26.7v8.81h-26.7zM547.7 441.37h26.7v8.81h-26.7zM587.3 441.37h13.5v8.81h-13.5zM627.0 441.37h6.9v8.81h-6.9zM884.7 441.37h13.5v8.81h-13.5zM1234.9 441.37h26.7v8.81h-26.7zM1301.0 441.37h6.9v8.81h-6.9zM1327.4 441.37h6.9v8.81h-6.9zM1373.7 441.37h6.9v8.81h-6.9zM547.7 449.88h66.4v8.81h-66.4zM884.7 449.88h13.5v8.81h-13.5zM911.1 449.88h13.5v8.81h-13.5zM1234.9 449.88h20.1v8.81h-20.1zM1268.0 449.88h26.7v8.81h-26.7zM1301.0 449.88h26.7v8.81h-26.7zM1340.6 449.88h20.1v8.81h-20.1zM1367.1 449.88h6.9v8.81h-6.9zM541.1 458.39h79.6v8.81h-79.6zM884.7 458.39h26.7v8.81h-26.7zM1234.9 458.39h20.1v8.81h-20.1zM1261.3 458.39h6.9v8.81h-6.9zM1307.6 458.39h20.1v8.81h-20.1zM1340.6 458.39h26.7v8.81h-26.7zM560.9 466.90h46.6v8.81h-46.6zM1320.8 466.90h46.6v8.81h-46.6zM1453.0 466.90h13.5v8.81h-13.5zM560.9 475.41h39.9v8.81h-39.9zM1334.0 475.41h20.1v8.81h-20.1zM1446.4 475.41h26.7v8.81h-26.7zM554.3 483.92h26.7v8.81h-26.7zM1340.6 483.92h20.1v8.81h-20.1zM1453.0 483.92h6.9v8.81h-6.9zM534.5 492.43h39.9v8.81h-39.9zM541.1 500.94h13.5v8.81h-13.5zM567.5 500.94h6.9v8.81h-6.9zM534.5 509.45h20.1v8.81h-20.1zM541.1 517.96h26.7v8.81h-26.7zM587.3 517.96h13.5v8.81h-13.5zM554.3 526.47h13.5v8.81h-13.5z"/>
<path fill="#ffe61f" d="M871.5 49.91h39.9v8.81h-39.9zM924.3 49.91h13.5v8.81h-13.5zM944.2 49.91h6.9v8.81h-6.9zM1182.0 49.91h13.5v8.81h-13.5zM1274.6 49.91h6.9v8.81h-6.9zM1373.7 49.91h13.5v8.81h-13.5zM1393.5 49.91h6.9v8.81h-6.9zM151.2 58.42h13.5v8.81h-13.5zM171.0 58.42h13.5v8.81h-13.5zM197.5 58.42h13.5v8.81h-13.5zM217.3 58.42h6.9v8.81h-6.9zM230.5 58.42h13.5v8.81h-13.5zM256.9 58.42h6.9v8.81h-6.9zM276.8 58.42h6.9v8.81h-6.9zM296.6 58.42h6.9v8.81h-6.9zM309.8 58.42h13.5v8.81h-13.5zM389.1 58.42h6.9v8.81h-6.9zM891.3 58.42h26.7v8.81h-26.7zM924.3 58.42h6.9v8.81h-6.9zM950.8 58.42h13.5v8.81h-13.5zM977.2 58.42h46.6v8.81h-46.6zM1043.3 58.42h79.6v8.81h-79.6zM1129.2 58.42h6.9v8.81h-6.9zM1281.2 58.42h13.5v8.81h-13.5zM1301.0 58.42h20.1v8.81h-20.1zM1353.9 58.42h6.9v8.81h-6.9zM1380.3 58.42h6.9v8.81h-6.9zM1393.5 58.42h13.5v8.81h-13.5zM1433.2 58.42h6.9v8.81h-6.9zM309.8 66.93h13.5v8.81h-13.5zM356.0 66.93h20.1v8.81h-20.1zM382.5 66.93h6.9v8.81h-6.9zM395.7 66.93h13.5v8.81h-13.5zM527.9 66.93h13.5v8.81h-13.5zM805.4 66.93h6.9v8.81h-6.9zM858.3 66.93h6.9v8.81h-6.9zM891.3 66.93h26.7v8.81h-26.7zM930.9 66.93h6.9v8.81h-6.9zM977.2 66.93h46.6v8.81h-46.6zM1063.1 66.93h20.1v8.81h-20.1zM1142.4 66.93h13.5v8.81h-13.5zM1175.4 66.93h26.7v8.81h-26.7zM1208.5 66.93h6.9v8.81h-6.9zM1228.3 66.93h13.5v8.81h-13.5zM1248.1 66.93h39.9v8.81h-39.9zM1301.0 66.93h20.1v8.81h-20.1zM1386.9 66.93h13.5v8.81h-13.5zM230.5 75.44h6.9v8.81h-6.9zM243.7 75.44h20.1v8.81h-20.1zM309.8 75.44h26.7v8.81h-26.7zM342.8 75.44h6.9v8.81h-6.9zM362.7 75.44h6.9v8.81h-6.9zM375.9 75.44h6.9v8.81h-6.9zM389.1 75.44h6.9v8.81h-6.9zM402.3 75.44h6.9v8.81h-6.9zM435.3 75.44h6.9v8.81h-6.9zM448.6 75.44h6.9v8.81h-6.9zM461.8 75.44h6.9v8.81h-6.9zM779.0 75.44h6.9v8.81h-6.9zM798.8 75.44h6.9v8.81h-6.9zM838.4 75.44h20.1v8.81h-20.1zM904.5 75.44h6.9v8.81h-6.9zM917.7 75.44h26.7v8.81h-26.7zM977.2 75.44h13.5v8.81h-13.5zM1016.8 75.44h13.5v8.81h-13.5zM1063.1 75.44h26.7v8.81h-26.7zM1096.1 75.44h6.9v8.81h-6.9zM1122.6 75.44h20.1v8.81h-20.1zM1162.2 75.44h26.7v8.81h-26.7zM1221.7 75.44h6.9v8.81h-6.9zM1241.5 75.44h6.9v8.81h-6.9zM1254.7 75.44h53.2v8.81h-53.2zM197.5 83.95h6.9v8.81h-6.9zM323.0 83.95h6.9v8.81h-6.9zM342.8 83.95h6.9v8.81h-6.9zM362.7 83.95h6.9v8.81h-6.9zM375.9 83.95h6.9v8.81h-6.9zM395.7 83.95h6.9v8.81h-6.9zM408.9 83.95h6.9v8.81h-6.9zM428.7 83.95h6.9v8.81h-6.9zM442.0 83.95h6.9v8.81h-6.9zM455.2 83.95h6.9v8.81h-6.9zM468.4 83.95h6.9v8.81h-6.9zM521.2 83.95h6.9v8.81h-6.9zM560.9 83.95h6.9v8.81h-6.9zM587.3 83.95h6.9v8.81h-6.9zM779.0 83.95h6.9v8.81h-6.9zM798.8 83.95h6.9v8.81h-6.9zM845.0 83.95h13.5v8.81h-13.5zM904.5 83.95h26.7v8.81h-26.7zM964.0 83.95h13.5v8.81h-13.5zM990.4 83.95h6.9v8.81h-6.9zM1030.1 83.95h13.5v8.81h-13.5zM1069.7 83.95h6.9v8.81h-6.9zM1149.0 83.95h33.3v8.81h-33.3zM1188.7 83.95h13.5v8.81h-13.5zM1208.5 83.95h13.5v8.81h-13.5zM1228.3 83.95h13.5v8.81h-13.5zM1254.7 83.95h33.3v8.81h-33.3zM1301.0 83.95h26.7v8.81h-26.7zM323.0 92.46h6.9v8.81h-6.9zM349.4 92.46h6.9v8.81h-6.9zM375.9 92.46h6.9v8.81h-6.9zM395.7 92.46h6.9v8.81h-6.9zM435.3 92.46h13.5v8.81h-13.5zM455.2 92.46h6.9v8.81h-6.9zM475.0 92.46h13.5v8.81h-13.5zM521.2 92.46h6.9v8.81h-6.9zM560.9 92.46h6.9v8.81h-6.9zM593.9 92.46h6.9v8.81h-6.9zM785.6 92.46h20.1v8.81h-20.1zM838.4 92.46h6.9v8.81h-6.9zM891.3 92.46h39.9v8.81h-39.9zM937.6 92.46h6.9v8.81h-6.9zM970.6 92.46h33.3v8.81h-33.3zM1043.3 92.46h79.6v8.81h-79.6zM1195.3 92.46h13.5v8.81h-13.5zM1248.1 92.46h6.9v8.81h-6.9zM1268.0 92.46h13.5v8.81h-13.5zM369.3 100.97h13.5v8.81h-13.5zM395.7 100.97h6.9v8.81h-6.9zM415.5 100.97h6.9v8.81h-6.9zM428.7 100.97h6.9v8.81h-6.9zM448.6 100.97h13.5v8.81h-13.5zM468.4 100.97h6.9v8.81h-6.9zM488.2 100.97h13.5v8.81h-13.5zM508.0 100.97h6.9v8.81h-6.9zM521.2 100.97h6.9v8.81h-6.9zM547.7 100.97h6.9v8.81h-6.9zM567.5 100.97h20.1v8.81h-20.1zM838.4 100.97h6.9v8.81h-6.9zM851.6 100.97h20.1v8.81h-20.1zM911.1 100.97h13.5v8.81h-13.5zM937.6 100.97h13.5v8.81h-13.5zM957.4 100.97h6.9v8.81h-6.9zM990.4 100.97h20.1v8.81h-20.1zM1063.1 100.97h6.9v8.81h-6.9zM1082.9 100.97h6.9v8.81h-6.9zM1096.1 100.97h20.1v8.81h-20.1zM1274.6 100.97h20.1v8.81h-20.1zM1307.6 100.97h6.9v8.81h-6.9zM1327.4 100.97h6.9v8.81h-6.9zM369.3 109.48h6.9v8.81h-6.9zM415.5 109.48h6.9v8.81h-6.9zM428.7 109.48h6.9v8.81h-6.9zM442.0 109.48h26.7v8.81h-26.7zM481.6 109.48h6.9v8.81h-6.9zM494.8 109.48h6.9v8.81h-6.9zM547.7 109.48h13.5v8.81h-13.5zM574.1 109.48h13.5v8.81h-13.5zM805.4 109.48h6.9v8.81h-6.9zM864.9 109.48h6.9v8.81h-6.9zM930.9 109.48h13.5v8.81h-13.5zM964.0 109.48h13.5v8.81h-13.5zM1155.6 109.48h13.5v8.81h-13.5zM1281.2 109.48h13.5v8.81h-13.5zM356.0 117.99h6.9v8.81h-6.9zM369.3 117.99h13.5v8.81h-13.5zM389.1 117.99h6.9v8.81h-6.9zM415.5 117.99h6.9v8.81h-6.9zM428.7 117.99h6.9v8.81h-6.9zM448.6 117.99h20.1v8.81h-20.1zM475.0 117.99h6.9v8.81h-6.9zM488.2 117.99h20.1v8.81h-20.1zM534.5 117.99h6.9v8.81h-6.9zM560.9 117.99h26.7v8.81h-26.7zM792.2 117.99h13.5v8.81h-13.5zM864.9 117.99h13.5v8.81h-13.5zM884.7 117.99h26.7v8.81h-26.7zM930.9 117.99h13.5v8.81h-13.5zM950.8 117.99h6.9v8.81h-6.9zM1023.5 117.99h13.5v8.81h-13.5zM1076.3 117.99h26.7v8.81h-26.7zM1149.0 117.99h33.3v8.81h-33.3zM1215.1 117.99h20.1v8.81h-20.1zM1241.5 117.99h13.5v8.81h-13.5zM1261.3 117.99h20.1v8.81h-20.1zM402.3 126.50h13.5v8.81h-13.5zM448.6 126.50h6.9v8.81h-6.9zM468.4 126.50h6.9v8.81h-6.9zM494.8 126.50h6.9v8.81h-6.9zM521.2 126.50h6.9v8.81h-6.9zM798.8 126.50h6.9v8.81h-6.9zM864.9 126.50h13.5v8.81h-13.5zM937.6 126.50h6.9v8.81h-6.9zM1089.5 126.50h6.9v8.81h-6.9zM1102.8 126.50h59.8v8.81h-59.8zM1208.5 126.50h26.7v8.81h-26.7zM1248.1 126.50h6.9v8.81h-6.9zM1274.6 126.50h13.5v8.81h-13.5zM395.7 135.01h20.1v8.81h-20.1zM461.8 135.01h6.9v8.81h-6.9zM779.0 135.01h6.9v8.81h-6.9zM792.2 135.01h33.3v8.81h-33.3zM838.4 135.01h13.5v8.81h-13.5zM858.3 135.01h26.7v8.81h-26.7zM891.3 135.01h20.1v8.81h-20.1zM930.9 135.01h6.9v8.81h-6.9zM970.6 135.01h6.9v8.81h-6.9zM990.4 135.01h6.9v8.81h-6.9zM1096.1 135.01h26.7v8.81h-26.7zM1135.8 135.01h13.5v8.81h-13.5zM1215.1 135.01h6.9v8.81h-6.9zM1241.5 135.01h6.9v8.81h-6.9zM1254.7 135.01h20.1v8.81h-20.1zM389.1 143.52h6.9v8.81h-6.9zM408.9 143.52h6.9v8.81h-6.9zM779.0 143.52h6.9v8.81h-6.9zM792.2 143.52h6.9v8.81h-6.9zM812.0 143.52h13.5v8.81h-13.5zM838.4 143.52h6.9v8.81h-6.9zM851.6 143.52h6.9v8.81h-6.9zM891.3 143.52h13.5v8.81h-13.5zM911.1 143.52h6.9v8.81h-6.9zM930.9 143.52h6.9v8.81h-6.9zM944.2 143.52h6.9v8.81h-6.9zM983.8 143.52h6.9v8.81h-6.9zM1023.5 143.52h6.9v8.81h-6.9zM1043.3 143.52h13.5v8.81h-13.5zM1102.8 143.52h13.5v8.81h-13.5zM1208.5 143.52h26.7v8.81h-26.7zM415.5 152.03h13.5v8.81h-13.5zM501.4 152.03h33.3v8.81h-33.3zM779.0 152.03h6.9v8.81h-6.9zM792.2 152.03h13.5v8.81h-13.5zM812.0 152.03h13.5v8.81h-13.5zM838.4 152.03h6.9v8.81h-6.9zM944.2 152.03h13.5v8.81h-13.5zM983.8 152.03h6.9v8.81h-6.9zM1049.9 152.03h6.9v8.81h-6.9zM1102.8 152.03h6.9v8.81h-6.9zM1195.3 152.03h6.9v8.81h-6.9zM1221.7 152.03h13.5v8.81h-13.5zM375.9 160.54h6.9v8.81h-6.9zM415.5 160.54h6.9v8.81h-6.9zM428.7 160.54h6.9v8.81h-6.9zM448.6 160.54h6.9v8.81h-6.9zM461.8 160.54h13.5v8.81h-13.5zM481.6 160.54h6.9v8.81h-6.9zM508.0 160.54h13.5v8.81h-13.5zM964.0 160.54h6.9v8.81h-6.9zM1010.2 160.54h6.9v8.81h-6.9zM1036.7 160.54h6.9v8.81h-6.9zM1049.9 160.54h20.1v8.81h-20.1zM1076.3 160.54h6.9v8.81h-6.9zM1109.4 160.54h79.6v8.81h-79.6zM1241.5 160.54h20.1v8.81h-20.1zM382.5 169.05h20.1v8.81h-20.1zM415.5 169.05h20.1v8.81h-20.1zM481.6 169.05h6.9v8.81h-6.9zM508.0 169.05h6.9v8.81h-6.9zM772.4 169.05h6.9v8.81h-6.9zM805.4 169.05h6.9v8.81h-6.9zM864.9 169.05h26.7v8.81h-26.7zM937.6 169.05h13.5v8.81h-13.5zM997.0 169.05h13.5v8.81h-13.5zM1043.3 169.05h6.9v8.81h-6.9zM1063.1 169.05h20.1v8.81h-20.1zM1109.4 169.05h13.5v8.81h-13.5zM1129.2 169.05h46.6v8.81h-46.6zM1228.3 169.05h6.9v8.81h-6.9zM1248.1 169.05h6.9v8.81h-6.9zM395.7 177.56h6.9v8.81h-6.9zM428.7 177.56h6.9v8.81h-6.9zM448.6 177.56h6.9v8.81h-6.9zM785.6 177.56h6.9v8.81h-6.9zM798.8 177.56h13.5v8.81h-13.5zM864.9 177.56h33.3v8.81h-33.3zM944.2 177.56h13.5v8.81h-13.5zM977.2 177.56h13.5v8.81h-13.5zM1228.3 177.56h6.9v8.81h-6.9zM1287.8 177.56h6.9v8.81h-6.9zM508.0 186.07h6.9v8.81h-6.9zM805.4 186.07h6.9v8.81h-6.9zM831.8 186.07h6.9v8.81h-6.9zM997.0 186.07h6.9v8.81h-6.9zM1010.2 186.07h6.9v8.81h-6.9zM1049.9 186.07h6.9v8.81h-6.9zM1248.1 186.07h6.9v8.81h-6.9zM1274.6 186.07h6.9v8.81h-6.9zM422.1 194.58h6.9v8.81h-6.9zM957.4 194.58h6.9v8.81h-6.9zM983.8 194.58h6.9v8.81h-6.9zM997.0 194.58h6.9v8.81h-6.9zM1234.9 194.58h20.1v8.81h-20.1zM1261.3 194.58h13.5v8.81h-13.5zM223.9 203.09h13.5v8.81h-13.5zM541.1 203.09h6.9v8.81h-6.9zM785.6 203.09h13.5v8.81h-13.5zM805.4 203.09h20.1v8.81h-20.1zM950.8 203.09h20.1v8.81h-20.1zM1010.2 203.09h20.1v8.81h-20.1zM1063.1 203.09h6.9v8.81h-6.9zM1234.9 203.09h6.9v8.81h-6.9zM1248.1 203.09h6.9v8.81h-6.9zM230.5 211.60h13.5v8.81h-13.5zM488.2 211.60h6.9v8.81h-6.9zM541.1 211.60h6.9v8.81h-6.9zM785.6 211.60h20.1v8.81h-20.1zM812.0 211.60h13.5v8.81h-13.5zM838.4 211.60h13.5v8.81h-13.5zM924.3 211.60h6.9v8.81h-6.9zM964.0 211.60h6.9v8.81h-6.9zM1010.2 211.60h20.1v8.81h-20.1zM1122.6 211.60h6.9v8.81h-6.9zM1201.9 211.60h6.9v8.81h-6.9zM1254.7 211.60h6.9v8.81h-6.9zM237.1 220.11h6.9v8.81h-6.9zM547.7 220.11h13.5v8.81h-13.5zM838.4 220.11h6.9v8.81h-6.9zM871.5 220.11h13.5v8.81h-13.5zM924.3 220.11h13.5v8.81h-13.5zM950.8 220.11h13.5v8.81h-13.5zM970.6 220.11h13.5v8.81h-13.5zM1201.9 220.11h6.9v8.81h-6.9zM1215.1 220.11h6.9v8.81h-6.9zM1248.1 220.11h6.9v8.81h-6.9zM772.4 228.62h6.9v8.81h-6.9zM805.4 228.62h6.9v8.81h-6.9zM825.2 228.62h13.5v8.81h-13.5zM851.6 228.62h26.7v8.81h-26.7zM884.7 228.62h13.5v8.81h-13.5zM944.2 228.62h6.9v8.81h-6.9zM964.0 228.62h6.9v8.81h-6.9zM997.0 228.62h13.5v8.81h-13.5zM1155.6 228.62h6.9v8.81h-6.9zM494.8 237.13h6.9v8.81h-6.9zM871.5 237.13h13.5v8.81h-13.5zM904.5 237.13h6.9v8.81h-6.9zM957.4 237.13h13.5v8.81h-13.5zM977.2 237.13h26.7v8.81h-26.7zM1096.1 237.13h13.5v8.81h-13.5zM1268.0 237.13h6.9v8.81h-6.9zM488.2 245.64h13.5v8.81h-13.5zM587.3 245.64h6.9v8.81h-6.9zM831.8 245.64h13.5v8.81h-13.5zM904.5 245.64h6.9v8.81h-6.9zM950.8 245.64h6.9v8.81h-6.9zM970.6 245.64h6.9v8.81h-6.9zM1102.8 245.64h6.9v8.81h-6.9zM1248.1 245.64h6.9v8.81h-6.9zM574.1 254.15h6.9v8.81h-6.9zM587.3 254.15h6.9v8.81h-6.9zM904.5 254.15h6.9v8.81h-6.9zM1096.1 254.15h6.9v8.81h-6.9zM547.7 262.66h6.9v8.81h-6.9zM567.5 262.66h6.9v8.81h-6.9zM1096.1 262.66h20.1v8.81h-20.1zM1188.7 262.66h6.9v8.81h-6.9zM1201.9 262.66h6.9v8.81h-6.9zM1254.7 262.66h6.9v8.81h-6.9zM534.5 271.17h6.9v8.81h-6.9zM759.1 271.17h6.9v8.81h-6.9zM825.2 271.17h6.9v8.81h-6.9zM897.9 271.17h6.9v8.81h-6.9zM521.2 279.68h6.9v8.81h-6.9zM534.5 279.68h6.9v8.81h-6.9zM818.6 279.68h6.9v8.81h-6.9zM964.0 279.68h6.9v8.81h-6.9zM977.2 279.68h6.9v8.81h-6.9zM1426.5 279.68h20.1v8.81h-20.1zM521.2 288.19h6.9v8.81h-6.9zM779.0 288.19h6.9v8.81h-6.9zM957.4 288.19h6.9v8.81h-6.9zM977.2 288.19h6.9v8.81h-6.9zM1215.1 288.19h6.9v8.81h-6.9zM514.6 296.70h6.9v8.81h-6.9zM534.5 296.70h6.9v8.81h-6.9zM574.1 296.70h20.1v8.81h-20.1zM613.8 296.70h6.9v8.81h-6.9zM838.4 296.70h6.9v8.81h-6.9zM957.4 296.70h6.9v8.81h-6.9zM977.2 296.70h6.9v8.81h-6.9zM580.7 305.21h20.1v8.81h-20.1zM613.8 305.21h6.9v8.81h-6.9zM831.8 305.21h6.9v8.81h-6.9zM957.4 305.21h6.9v8.81h-6.9zM1168.8 305.21h6.9v8.81h-6.9zM1182.0 305.21h6.9v8.81h-6.9zM1241.5 305.21h6.9v8.81h-6.9zM1268.0 305.21h6.9v8.81h-6.9zM567.5 313.72h6.9v8.81h-6.9zM580.7 313.72h13.5v8.81h-13.5zM607.2 313.72h6.9v8.81h-6.9zM964.0 313.72h6.9v8.81h-6.9zM1175.4 313.72h6.9v8.81h-6.9zM1241.5 313.72h6.9v8.81h-6.9zM1367.1 313.72h6.9v8.81h-6.9zM574.1 322.23h6.9v8.81h-6.9zM593.9 322.23h6.9v8.81h-6.9zM845.0 322.23h6.9v8.81h-6.9zM1221.7 322.23h26.7v8.81h-26.7zM1347.2 322.23h6.9v8.81h-6.9zM514.6 330.74h6.9v8.81h-6.9zM554.3 330.74h20.1v8.81h-20.1zM593.9 330.74h13.5v8.81h-13.5zM620.4 330.74h6.9v8.81h-6.9zM1268.0 330.74h6.9v8.81h-6.9zM514.6 339.25h20.1v8.81h-20.1zM574.1 339.25h13.5v8.81h-13.5zM593.9 339.25h13.5v8.81h-13.5zM613.8 339.25h6.9v8.81h-6.9zM627.0 339.25h13.5v8.81h-13.5zM858.3 339.25h6.9v8.81h-6.9zM1215.1 339.25h13.5v8.81h-13.5zM1241.5 339.25h6.9v8.81h-6.9zM1294.4 339.25h13.5v8.81h-13.5zM554.3 347.76h79.6v8.81h-79.6zM673.2 347.76h6.9v8.81h-6.9zM858.3 347.76h6.9v8.81h-6.9zM1241.5 347.76h6.9v8.81h-6.9zM587.3 356.27h20.1v8.81h-20.1zM858.3 356.27h6.9v8.81h-6.9zM878.1 356.27h13.5v8.81h-13.5zM1373.7 356.27h6.9v8.81h-6.9zM534.5 364.78h6.9v8.81h-6.9zM560.9 364.78h6.9v8.81h-6.9zM593.9 364.78h13.5v8.81h-13.5zM620.4 364.78h13.5v8.81h-13.5zM858.3 364.78h13.5v8.81h-13.5zM977.2 364.78h13.5v8.81h-13.5zM1314.2 364.78h6.9v8.81h-6.9zM1334.0 364.78h6.9v8.81h-6.9zM534.5 373.29h6.9v8.81h-6.9zM547.7 373.29h6.9v8.81h-6.9zM567.5 373.29h13.5v8.81h-13.5zM593.9 373.29h20.1v8.81h-20.1zM620.4 373.29h6.9v8.81h-6.9zM871.5 373.29h13.5v8.81h-13.5zM983.8 373.29h6.9v8.81h-6.9zM1274.6 373.29h6.9v8.81h-6.9zM1314.2 373.29h6.9v8.81h-6.9zM1340.6 373.29h6.9v8.81h-6.9zM560.9 381.80h6.9v8.81h-6.9zM580.7 381.80h6.9v8.81h-6.9zM593.9 381.80h13.5v8.81h-13.5zM660.0 381.80h6.9v8.81h-6.9zM858.3 381.80h6.9v8.81h-6.9zM878.1 381.80h6.9v8.81h-6.9zM977.2 381.80h13.5v8.81h-13.5zM1261.3 381.80h20.1v8.81h-20.1zM1314.2 381.80h13.5v8.81h-13.5zM1334.0 381.80h13.5v8.81h-13.5zM1459.6 381.80h13.5v8.81h-13.5zM547.7 390.31h20.1v8.81h-20.1zM574.1 390.31h6.9v8.81h-6.9zM593.9 390.31h13.5v8.81h-13.5zM660.0 390.31h6.9v8.81h-6.9zM944.2 390.31h6.9v8.81h-6.9zM977.2 390.31h20.1v8.81h-20.1zM1261.3 390.31h13.5v8.81h-13.5zM1307.6 390.31h33.3v8.81h-33.3zM1459.6 390.31h6.9v8.81h-6.9zM554.3 398.82h13.5v8.81h-13.5zM587.3 398.82h6.9v8.81h-6.9zM600.5 398.82h13.5v8.81h-13.5zM990.4 398.82h6.9v8.81h-6.9zM1016.8 398.82h6.9v8.81h-6.9zM1254.7 398.82h6.9v8.81h-6.9zM1274.6 398.82h13.5v8.81h-13.5zM1320.8 398.82h6.9v8.81h-6.9zM1406.7 398.82h6.9v8.81h-6.9zM1426.5 398.82h13.5v8.81h-13.5zM554.3 407.33h20.1v8.81h-20.1zM607.2 407.33h26.7v8.81h-26.7zM646.8 407.33h13.5v8.81h-13.5zM864.9 407.33h6.9v8.81h-6.9zM977.2 407.33h6.9v8.81h-6.9zM1228.3 407.33h6.9v8.81h-6.9zM1287.8 407.33h6.9v8.81h-6.9zM1426.5 407.33h6.9v8.81h-6.9zM567.5 415.84h13.5v8.81h-13.5zM613.8 415.84h26.7v8.81h-26.7zM983.8 415.84h6.9v8.81h-6.9zM1287.8 415.84h6.9v8.81h-6.9zM633.6 424.35h6.9v8.81h-6.9zM904.5 424.35h6.9v8.81h-6.9zM1228.3 424.35h20.1v8.81h-20.1zM1254.7 424.35h13.5v8.81h-13.5zM1281.2 424.35h6.9v8.81h-6.9zM1307.6 424.35h6.9v8.81h-6.9zM567.5 432.86h13.5v8.81h-13.5zM600.5 432.86h6.9v8.81h-6.9zM627.0 432.86h6.9v8.81h-6.9zM871.5 432.86h6.9v8.81h-6.9zM884.7 432.86h6.9v8.81h-6.9zM897.9 432.86h6.9v8.81h-6.9zM917.7 432.86h13.5v8.81h-13.5zM1254.7 432.86h6.9v8.81h-6.9zM1281.2 432.86h6.9v8.81h-6.9zM1294.4 432.86h6.9v8.81h-6.9zM1320.8 432.86h6.9v8.81h-6.9zM1353.9 432.86h6.9v8.81h-6.9zM1373.7 432.86h6.9v8.81h-6.9zM1426.5 432.86h6.9v8.81h-6.9zM574.1 441.37h13.5v8.81h-13.5zM600.5 441.37h20.1v8.81h-20.1zM871.5 441.37h6.9v8.81h-6.9zM897.9 441.37h6.9v8.81h-6.9zM924.3 441.37h6.9v8.81h-6.9zM1261.3 441.37h6.9v8.81h-6.9zM897.9 449.88h6.9v8.81h-6.9zM878.1 458.39h6.9v8.81h-6.9zM1446.4 458.39h6.9v8.81h-6.9zM541.1 466.90h6.9v8.81h-6.9zM554.3 466.90h6.9v8.81h-6.9zM765.7 466.90h6.9v8.81h-6.9zM554.3 475.41h6.9v8.81h-6.9zM534.5 483.92h6.9v8.81h-6.9zM554.3 500.94h13.5v8.81h-13.5zM560.9 509.45h6.9v8.81h-6.9z"/>
<path fill="#ffcf1b" d="M911.1 49.91h13.5v8.81h-13.5zM1116.0 49.91h53.2v8.81h-53.2zM858.3 58.42h13.5v8.81h-13.5zM878.1 58.42h13.5v8.81h-13.5zM917.7 58.42h6.9v8.81h-6.9zM930.9 58.42h13.5v8.81h-13.5zM1023.5 58.42h20.1v8.81h-20.1zM1122.6 58.42h6.9v8.81h-6.9zM1135.8 58.42h6.9v8.81h-6.9zM1360.5 58.42h20.1v8.81h-20.1zM1386.9 58.42h6.9v8.81h-6.9zM217.3 66.93h13.5v8.81h-13.5zM256.9 66.93h33.3v8.81h-33.3zM375.9 66.93h6.9v8.81h-6.9zM389.1 66.93h6.9v8.81h-6.9zM851.6 66.93h6.9v8.81h-6.9zM917.7 66.93h13.5v8.81h-13.5zM937.6 66.93h6.9v8.81h-6.9zM1030.1 66.93h33.3v8.81h-33.3zM1082.9 66.93h20.1v8.81h-20.1zM1109.4 66.93h26.7v8.81h-26.7zM1327.4 66.93h33.3v8.81h-33.3zM1367.1 66.93h13.5v8.81h-13.5zM1400.1 66.93h53.2v8.81h-53.2zM336.2 75.44h6.9v8.81h-6.9zM349.4 75.44h13.5v8.81h-13.5zM369.3 75.44h6.9v8.81h-6.9zM382.5 75.44h6.9v8.81h-6.9zM395.7 75.44h6.9v8.81h-6.9zM785.6 75.44h13.5v8.81h-13.5zM884.7 75.44h20.1v8.81h-20.1zM990.4 75.44h26.7v8.81h-26.7zM1102.8 75.44h20.1v8.81h-20.1zM1142.4 75.44h6.9v8.81h-6.9zM1307.6 75.44h6.9v8.81h-6.9zM1386.9 75.44h26.7v8.81h-26.7zM329.6 83.95h13.5v8.81h-13.5zM349.4 83.95h13.5v8.81h-13.5zM369.3 83.95h6.9v8.81h-6.9zM382.5 83.95h13.5v8.81h-13.5zM402.3 83.95h6.9v8.81h-6.9zM415.5 83.95h13.5v8.81h-13.5zM435.3 83.95h6.9v8.81h-6.9zM448.6 83.95h6.9v8.81h-6.9zM461.8 83.95h6.9v8.81h-6.9zM785.6 83.95h13.5v8.81h-13.5zM838.4 83.95h6.9v8.81h-6.9zM858.3 83.95h13.5v8.81h-13.5zM884.7 83.95h20.1v8.81h-20.1zM997.0 83.95h6.9v8.81h-6.9zM1010.2 83.95h20.1v8.81h-20.1zM1056.5 83.95h13.5v8.81h-13.5zM1129.2 83.95h6.9v8.81h-6.9zM1142.4 83.95h6.9v8.81h-6.9zM1380.3 83.95h13.5v8.81h-13.5zM336.2 92.46h13.5v8.81h-13.5zM356.0 92.46h20.1v8.81h-20.1zM382.5 92.46h13.5v8.81h-13.5zM402.3 92.46h33.3v8.81h-33.3zM448.6 92.46h6.9v8.81h-6.9zM514.6 92.46h6.9v8.81h-6.9zM858.3 92.46h13.5v8.81h-13.5zM930.9 92.46h6.9v8.81h-6.9zM1003.6 92.46h26.7v8.81h-26.7zM1122.6 92.46h39.9v8.81h-39.9zM1168.8 92.46h26.7v8.81h-26.7zM1307.6 92.46h13.5v8.81h-13.5zM1327.4 92.46h13.5v8.81h-13.5zM342.8 100.97h13.5v8.81h-13.5zM362.7 100.97h6.9v8.81h-6.9zM382.5 100.97h13.5v8.81h-13.5zM408.9 100.97h6.9v8.81h-6.9zM422.1 100.97h6.9v8.81h-6.9zM435.3 100.97h13.5v8.81h-13.5zM461.8 100.97h6.9v8.81h-6.9zM481.6 100.97h6.9v8.81h-6.9zM501.4 100.97h6.9v8.81h-6.9zM514.6 100.97h6.9v8.81h-6.9zM527.9 100.97h20.1v8.81h-20.1zM554.3 100.97h13.5v8.81h-13.5zM792.2 100.97h13.5v8.81h-13.5zM812.0 100.97h26.7v8.81h-26.7zM884.7 100.97h13.5v8.81h-13.5zM904.5 100.97h6.9v8.81h-6.9zM1069.7 100.97h13.5v8.81h-13.5zM1116.0 100.97h26.7v8.81h-26.7zM1155.6 100.97h20.1v8.81h-20.1zM1182.0 100.97h20.1v8.81h-20.1zM1208.5 100.97h20.1v8.81h-20.1zM1241.5 100.97h20.1v8.81h-20.1zM1301.0 100.97h6.9v8.81h-6.9zM1314.2 100.97h13.5v8.81h-13.5zM356.0 109.48h13.5v8.81h-13.5zM375.9 109.48h20.1v8.81h-20.1zM408.9 109.48h6.9v8.81h-6.9zM475.0 109.48h6.9v8.81h-6.9zM488.2 109.48h6.9v8.81h-6.9zM501.4 109.48h13.5v8.81h-13.5zM521.2 109.48h20.1v8.81h-20.1zM560.9 109.48h13.5v8.81h-13.5zM798.8 109.48h6.9v8.81h-6.9zM812.0 109.48h26.7v8.81h-26.7zM871.5 109.48h39.9v8.81h-39.9zM944.2 109.48h6.9v8.81h-6.9zM1129.2 109.48h6.9v8.81h-6.9zM1142.4 109.48h13.5v8.81h-13.5zM1248.1 109.48h6.9v8.81h-6.9zM1261.3 109.48h6.9v8.81h-6.9zM1274.6 109.48h6.9v8.81h-6.9zM1294.4 109.48h20.1v8.81h-20.1zM362.7 117.99h6.9v8.81h-6.9zM395.7 117.99h6.9v8.81h-6.9zM408.9 117.99h6.9v8.81h-6.9zM435.3 117.99h13.5v8.81h-13.5zM481.6 117.99h6.9v8.81h-6.9zM508.0 117.99h6.9v8.81h-6.9zM521.2 117.99h13.5v8.81h-13.5zM779.0 117.99h13.5v8.81h-13.5zM812.0 117.99h26.7v8.81h-26.7zM851.6 117.99h13.5v8.81h-13.5zM911.1 117.99h6.9v8.81h-6.9zM970.6 117.99h6.9v8.81h-6.9zM1102.8 117.99h6.9v8.81h-6.9zM1122.6 117.99h20.1v8.81h-20.1zM1287.8 117.99h13.5v8.81h-13.5zM369.3 126.50h20.1v8.81h-20.1zM395.7 126.50h6.9v8.81h-6.9zM455.2 126.50h6.9v8.81h-6.9zM508.0 126.50h6.9v8.81h-6.9zM818.6 126.50h6.9v8.81h-6.9zM911.1 126.50h13.5v8.81h-13.5zM957.4 126.50h6.9v8.81h-6.9zM990.4 126.50h6.9v8.81h-6.9zM1023.5 126.50h13.5v8.81h-13.5zM1049.9 126.50h33.3v8.81h-33.3zM1096.1 126.50h6.9v8.81h-6.9zM1234.9 126.50h13.5v8.81h-13.5zM1261.3 126.50h13.5v8.81h-13.5zM369.3 135.01h6.9v8.81h-6.9zM455.2 135.01h6.9v8.81h-6.9zM785.6 135.01h6.9v8.81h-6.9zM884.7 135.01h6.9v8.81h-6.9zM937.6 135.01h6.9v8.81h-6.9zM950.8 135.01h20.1v8.81h-20.1zM977.2 135.01h13.5v8.81h-13.5zM1056.5 135.01h6.9v8.81h-6.9zM1076.3 135.01h20.1v8.81h-20.1zM1175.4 135.01h6.9v8.81h-6.9zM1208.5 135.01h6.9v8.81h-6.9zM1234.9 135.01h6.9v8.81h-6.9zM362.7 143.52h20.1v8.81h-20.1zM395.7 143.52h13.5v8.81h-13.5zM415.5 143.52h13.5v8.81h-13.5zM785.6 143.52h6.9v8.81h-6.9zM825.2 143.52h13.5v8.81h-13.5zM858.3 143.52h13.5v8.81h-13.5zM950.8 143.52h20.1v8.81h-20.1zM977.2 143.52h6.9v8.81h-6.9zM1010.2 143.52h13.5v8.81h-13.5zM1089.5 143.52h13.5v8.81h-13.5zM1182.0 143.52h20.1v8.81h-20.1zM382.5 152.03h33.3v8.81h-33.3zM785.6 152.03h6.9v8.81h-6.9zM825.2 152.03h13.5v8.81h-13.5zM930.9 152.03h6.9v8.81h-6.9zM957.4 152.03h13.5v8.81h-13.5zM977.2 152.03h6.9v8.81h-6.9zM1003.6 152.03h6.9v8.81h-6.9zM1030.1 152.03h20.1v8.81h-20.1zM1056.5 152.03h6.9v8.81h-6.9zM1096.1 152.03h6.9v8.81h-6.9zM1182.0 152.03h13.5v8.81h-13.5zM389.1 160.54h13.5v8.81h-13.5zM408.9 160.54h6.9v8.81h-6.9zM422.1 160.54h6.9v8.81h-6.9zM779.0 160.54h13.5v8.81h-13.5zM805.4 160.54h33.3v8.81h-33.3zM845.0 160.54h13.5v8.81h-13.5zM937.6 160.54h13.5v8.81h-13.5zM970.6 160.54h33.3v8.81h-33.3zM1030.1 160.54h6.9v8.81h-6.9zM1043.3 160.54h6.9v8.81h-6.9zM1069.7 160.54h6.9v8.81h-6.9zM1188.7 160.54h6.9v8.81h-6.9zM435.3 169.05h13.5v8.81h-13.5zM461.8 169.05h20.1v8.81h-20.1zM488.2 169.05h6.9v8.81h-6.9zM785.6 169.05h20.1v8.81h-20.1zM845.0 169.05h6.9v8.81h-6.9zM917.7 169.05h13.5v8.81h-13.5zM970.6 169.05h26.7v8.81h-26.7zM1016.8 169.05h6.9v8.81h-6.9zM1036.7 169.05h6.9v8.81h-6.9zM1049.9 169.05h13.5v8.81h-13.5zM1082.9 169.05h6.9v8.81h-6.9zM1182.0 169.05h6.9v8.81h-6.9zM1208.5 169.05h20.1v8.81h-20.1zM1234.9 169.05h13.5v8.81h-13.5zM402.3 177.56h6.9v8.81h-6.9zM415.5 177.56h6.9v8.81h-6.9zM435.3 177.56h13.5v8.81h-13.5zM759.1 177.56h26.7v8.81h-26.7zM812.0 177.56h13.5v8.81h-13.5zM997.0 177.56h73.0v8.81h-73.0zM1208.5 177.56h6.9v8.81h-6.9zM1221.7 177.56h6.9v8.81h-6.9zM1241.5 177.56h13.5v8.81h-13.5zM1281.2 177.56h6.9v8.81h-6.9zM402.3 186.07h20.1v8.81h-20.1zM514.6 186.07h6.9v8.81h-6.9zM759.1 186.07h6.9v8.81h-6.9zM812.0 186.07h13.5v8.81h-13.5zM838.4 186.07h13.5v8.81h-13.5zM983.8 186.07h13.5v8.81h-13.5zM1003.6 186.07h6.9v8.81h-6.9zM1016.8 186.07h13.5v8.81h-13.5zM1069.7 186.07h13.5v8.81h-13.5zM1228.3 186.07h13.5v8.81h-13.5zM1281.2 186.07h6.9v8.81h-6.9zM428.7 194.58h6.9v8.81h-6.9zM792.2 194.58h13.5v8.81h-13.5zM825.2 194.58h6.9v8.81h-6.9zM930.9 194.58h6.9v8.81h-6.9zM1023.5 194.58h6.9v8.81h-6.9zM1228.3 194.58h6.9v8.81h-6.9zM422.1 203.09h13.5v8.81h-13.5zM1135.8 203.09h6.9v8.81h-6.9zM1215.1 203.09h6.9v8.81h-6.9zM1228.3 203.09h6.9v8.81h-6.9zM435.3 211.60h6.9v8.81h-6.9zM455.2 211.60h6.9v8.81h-6.9zM481.6 211.60h6.9v8.81h-6.9zM547.7 211.60h6.9v8.81h-6.9zM745.9 211.60h13.5v8.81h-13.5zM1089.5 211.60h6.9v8.81h-6.9zM1208.5 211.60h13.5v8.81h-13.5zM435.3 220.11h6.9v8.81h-6.9zM468.4 220.11h6.9v8.81h-6.9zM481.6 220.11h13.5v8.81h-13.5zM567.5 220.11h20.1v8.81h-20.1zM812.0 220.11h26.7v8.81h-26.7zM1010.2 220.11h13.5v8.81h-13.5zM1076.3 220.11h13.5v8.81h-13.5zM1096.1 220.11h13.5v8.81h-13.5zM1155.6 220.11h6.9v8.81h-6.9zM1208.5 220.11h6.9v8.81h-6.9zM442.0 228.62h6.9v8.81h-6.9zM488.2 228.62h20.1v8.81h-20.1zM580.7 228.62h6.9v8.81h-6.9zM745.9 228.62h20.1v8.81h-20.1zM792.2 228.62h13.5v8.81h-13.5zM812.0 228.62h13.5v8.81h-13.5zM838.4 228.62h13.5v8.81h-13.5zM950.8 228.62h6.9v8.81h-6.9zM977.2 228.62h20.1v8.81h-20.1zM1010.2 228.62h6.9v8.81h-6.9zM1076.3 228.62h39.9v8.81h-39.9zM1162.2 228.62h6.9v8.81h-6.9zM1208.5 228.62h6.9v8.81h-6.9zM1261.3 228.62h6.9v8.81h-6.9zM488.2 237.13h6.9v8.81h-6.9zM501.4 237.13h6.9v8.81h-6.9zM580.7 237.13h6.9v8.81h-6.9zM752.5 237.13h6.9v8.81h-6.9zM825.2 237.13h20.1v8.81h-20.1zM897.9 237.13h6.9v8.81h-6.9zM911.1 237.13h6.9v8.81h-6.9zM944.2 237.13h13.5v8.81h-13.5zM1082.9 237.13h13.5v8.81h-13.5zM1340.6 237.13h13.5v8.81h-13.5zM481.6 245.64h6.9v8.81h-6.9zM501.4 245.64h6.9v8.81h-6.9zM580.7 245.64h6.9v8.81h-6.9zM785.6 245.64h6.9v8.81h-6.9zM812.0 245.64h20.1v8.81h-20.1zM845.0 245.64h6.9v8.81h-6.9zM891.3 245.64h13.5v8.81h-13.5zM944.2 245.64h6.9v8.81h-6.9zM957.4 245.64h6.9v8.81h-6.9zM1096.1 245.64h6.9v8.81h-6.9zM1149.0 245.64h6.9v8.81h-6.9zM1168.8 245.64h13.5v8.81h-13.5zM1188.7 245.64h13.5v8.81h-13.5zM1268.0 245.64h6.9v8.81h-6.9zM501.4 254.15h6.9v8.81h-6.9zM534.5 254.15h6.9v8.81h-6.9zM580.7 254.15h6.9v8.81h-6.9zM891.3 254.15h13.5v8.81h-13.5zM944.2 254.15h20.1v8.81h-20.1zM1149.0 254.15h6.9v8.81h-6.9zM1168.8 254.15h13.5v8.81h-13.5zM1188.7 254.15h13.5v8.81h-13.5zM1268.0 254.15h6.9v8.81h-6.9zM508.0 262.66h26.7v8.81h-26.7zM541.1 262.66h6.9v8.81h-6.9zM574.1 262.66h13.5v8.81h-13.5zM891.3 262.66h13.5v8.81h-13.5zM944.2 262.66h6.9v8.81h-6.9zM957.4 262.66h13.5v8.81h-13.5zM1149.0 262.66h6.9v8.81h-6.9zM1175.4 262.66h6.9v8.81h-6.9zM1195.3 262.66h6.9v8.81h-6.9zM1241.5 262.66h6.9v8.81h-6.9zM1274.6 262.66h6.9v8.81h-6.9zM1314.2 262.66h6.9v8.81h-6.9zM521.2 271.17h13.5v8.81h-13.5zM541.1 271.17h6.9v8.81h-6.9zM560.9 271.17h6.9v8.81h-6.9zM574.1 271.17h13.5v8.81h-13.5zM593.9 271.17h6.9v8.81h-6.9zM891.3 271.17h6.9v8.81h-6.9zM957.4 271.17h13.5v8.81h-13.5zM1102.8 271.17h13.5v8.81h-13.5zM1175.4 271.17h13.5v8.81h-13.5zM1367.1 271.17h6.9v8.81h-6.9zM527.9 279.68h6.9v8.81h-6.9zM541.1 279.68h6.9v8.81h-6.9zM554.3 279.68h6.9v8.81h-6.9zM567.5 279.68h6.9v8.81h-6.9zM587.3 279.68h13.5v8.81h-13.5zM613.8 279.68h6.9v8.81h-6.9zM897.9 279.68h13.5v8.81h-13.5zM957.4 279.68h6.9v8.81h-6.9zM970.6 279.68h6.9v8.81h-6.9zM1102.8 279.68h6.9v8.81h-6.9zM1162.2 279.68h20.1v8.81h-20.1zM1188.7 279.68h6.9v8.81h-6.9zM1254.7 279.68h6.9v8.81h-6.9zM527.9 288.19h6.9v8.81h-6.9zM541.1 288.19h20.1v8.81h-20.1zM574.1 288.19h33.3v8.81h-33.3zM620.4 288.19h6.9v8.81h-6.9zM950.8 288.19h6.9v8.81h-6.9zM964.0 288.19h13.5v8.81h-13.5zM1162.2 288.19h6.9v8.81h-6.9zM1175.4 288.19h6.9v8.81h-6.9zM521.2 296.70h6.9v8.81h-6.9zM541.1 296.70h6.9v8.81h-6.9zM554.3 296.70h20.1v8.81h-20.1zM593.9 296.70h20.1v8.81h-20.1zM950.8 296.70h6.9v8.81h-6.9zM964.0 296.70h6.9v8.81h-6.9zM1162.2 296.70h6.9v8.81h-6.9zM1241.5 296.70h6.9v8.81h-6.9zM514.6 305.21h6.9v8.81h-6.9zM527.9 305.21h20.1v8.81h-20.1zM560.9 305.21h13.5v8.81h-13.5zM964.0 305.21h6.9v8.81h-6.9zM1175.4 305.21h6.9v8.81h-6.9zM1188.7 305.21h6.9v8.81h-6.9zM1301.0 305.21h6.9v8.81h-6.9zM514.6 313.72h6.9v8.81h-6.9zM527.9 313.72h6.9v8.81h-6.9zM547.7 313.72h20.1v8.81h-20.1zM627.0 313.72h20.1v8.81h-20.1zM884.7 313.72h6.9v8.81h-6.9zM950.8 313.72h6.9v8.81h-6.9zM1188.7 313.72h20.1v8.81h-20.1zM1268.0 313.72h6.9v8.81h-6.9zM514.6 322.23h6.9v8.81h-6.9zM527.9 322.23h6.9v8.81h-6.9zM547.7 322.23h6.9v8.81h-6.9zM560.9 322.23h13.5v8.81h-13.5zM646.8 322.23h6.9v8.81h-6.9zM660.0 322.23h6.9v8.81h-6.9zM897.9 322.23h6.9v8.81h-6.9zM957.4 322.23h6.9v8.81h-6.9zM1195.3 322.23h13.5v8.81h-13.5zM1215.1 322.23h6.9v8.81h-6.9zM521.2 330.74h6.9v8.81h-6.9zM534.5 330.74h20.1v8.81h-20.1zM574.1 330.74h13.5v8.81h-13.5zM613.8 330.74h6.9v8.81h-6.9zM904.5 330.74h6.9v8.81h-6.9zM1201.9 330.74h6.9v8.81h-6.9zM534.5 339.25h39.9v8.81h-39.9zM864.9 339.25h13.5v8.81h-13.5zM884.7 339.25h6.9v8.81h-6.9zM897.9 339.25h26.7v8.81h-26.7zM930.9 339.25h13.5v8.81h-13.5zM1201.9 339.25h6.9v8.81h-6.9zM1228.3 339.25h13.5v8.81h-13.5zM1248.1 339.25h6.9v8.81h-6.9zM1281.2 339.25h6.9v8.81h-6.9zM1314.2 339.25h6.9v8.81h-6.9zM296.6 347.76h6.9v8.81h-6.9zM521.2 347.76h6.9v8.81h-6.9zM534.5 347.76h20.1v8.81h-20.1zM633.6 347.76h6.9v8.81h-6.9zM864.9 347.76h20.1v8.81h-20.1zM891.3 347.76h39.9v8.81h-39.9zM950.8 347.76h13.5v8.81h-13.5zM1228.3 347.76h13.5v8.81h-13.5zM1367.1 347.76h6.9v8.81h-6.9zM541.1 356.27h20.1v8.81h-20.1zM620.4 356.27h13.5v8.81h-13.5zM864.9 356.27h13.5v8.81h-13.5zM891.3 356.27h39.9v8.81h-39.9zM950.8 356.27h13.5v8.81h-13.5zM1367.1 356.27h6.9v8.81h-6.9zM1400.1 356.27h13.5v8.81h-13.5zM527.9 364.78h6.9v8.81h-6.9zM541.1 364.78h20.1v8.81h-20.1zM567.5 364.78h6.9v8.81h-6.9zM587.3 364.78h6.9v8.81h-6.9zM871.5 364.78h73.0v8.81h-73.0zM950.8 364.78h13.5v8.81h-13.5zM1327.4 364.78h6.9v8.81h-6.9zM1419.9 364.78h6.9v8.81h-6.9zM541.1 373.29h6.9v8.81h-6.9zM554.3 373.29h13.5v8.81h-13.5zM580.7 373.29h13.5v8.81h-13.5zM858.3 373.29h13.5v8.81h-13.5zM884.7 373.29h6.9v8.81h-6.9zM897.9 373.29h13.5v8.81h-13.5zM924.3 373.29h6.9v8.81h-6.9zM944.2 373.29h20.1v8.81h-20.1zM990.4 373.29h6.9v8.81h-6.9zM1281.2 373.29h6.9v8.81h-6.9zM1307.6 373.29h6.9v8.81h-6.9zM1327.4 373.29h13.5v8.81h-13.5zM151.2 381.80h6.9v8.81h-6.9zM547.7 381.80h13.5v8.81h-13.5zM567.5 381.80h6.9v8.81h-6.9zM587.3 381.80h6.9v8.81h-6.9zM871.5 381.80h6.9v8.81h-6.9zM884.7 381.80h6.9v8.81h-6.9zM904.5 381.80h26.7v8.81h-26.7zM937.6 381.80h6.9v8.81h-6.9zM950.8 381.80h13.5v8.81h-13.5zM990.4 381.80h6.9v8.81h-6.9zM1281.2 381.80h33.3v8.81h-33.3zM1327.4 381.80h6.9v8.81h-6.9zM580.7 390.31h13.5v8.81h-13.5zM858.3 390.31h39.9v8.81h-39.9zM911.1 390.31h20.1v8.81h-20.1zM1274.6 390.31h33.3v8.81h-33.3zM1426.5 390.31h13.5v8.81h-13.5zM1466.2 390.31h6.9v8.81h-6.9zM567.5 398.82h20.1v8.81h-20.1zM593.9 398.82h6.9v8.81h-6.9zM871.5 398.82h13.5v8.81h-13.5zM911.1 398.82h6.9v8.81h-6.9zM924.3 398.82h20.1v8.81h-20.1zM970.6 398.82h20.1v8.81h-20.1zM1234.9 398.82h20.1v8.81h-20.1zM1301.0 398.82h6.9v8.81h-6.9zM593.9 407.33h13.5v8.81h-13.5zM871.5 407.33h13.5v8.81h-13.5zM897.9 407.33h6.9v8.81h-6.9zM911.1 407.33h6.9v8.81h-6.9zM924.3 407.33h20.1v8.81h-20.1zM970.6 407.33h6.9v8.81h-6.9zM983.8 407.33h6.9v8.81h-6.9zM1254.7 407.33h13.5v8.81h-13.5zM1307.6 407.33h13.5v8.81h-13.5zM1413.3 407.33h6.9v8.81h-6.9zM554.3 415.84h13.5v8.81h-13.5zM580.7 415.84h33.3v8.81h-33.3zM871.5 415.84h33.3v8.81h-33.3zM924.3 415.84h20.1v8.81h-20.1zM970.6 415.84h13.5v8.81h-13.5zM1228.3 415.84h26.7v8.81h-26.7zM1281.2 415.84h6.9v8.81h-6.9zM1294.4 415.84h13.5v8.81h-13.5zM1340.6 415.84h13.5v8.81h-13.5zM574.1 424.35h33.3v8.81h-33.3zM613.8 424.35h20.1v8.81h-20.1zM884.7 424.35h20.1v8.81h-20.1zM924.3 424.35h13.5v8.81h-13.5zM1294.4 424.35h13.5v8.81h-13.5zM1340.6 424.35h13.5v8.81h-13.5zM580.7 432.86h20.1v8.81h-20.1zM607.2 432.86h20.1v8.81h-20.1zM904.5 432.86h13.5v8.81h-13.5zM1234.9 432.86h13.5v8.81h-13.5zM1301.0 432.86h6.9v8.81h-6.9zM1360.5 432.86h13.5v8.81h-13.5zM620.4 441.37h6.9v8.81h-6.9zM878.1 441.37h6.9v8.81h-6.9zM904.5 441.37h13.5v8.81h-13.5zM1268.0 441.37h20.1v8.81h-20.1zM1294.4 441.37h6.9v8.81h-6.9zM1307.6 441.37h20.1v8.81h-20.1zM1340.6 441.37h26.7v8.81h-26.7zM613.8 449.88h6.9v8.81h-6.9zM878.1 449.88h6.9v8.81h-6.9zM904.5 449.88h6.9v8.81h-6.9zM1254.7 449.88h13.5v8.81h-13.5zM1294.4 449.88h6.9v8.81h-6.9zM1327.4 449.88h6.9v8.81h-6.9zM1360.5 449.88h6.9v8.81h-6.9zM1327.4 458.39h13.5v8.81h-13.5zM547.7 466.90h6.9v8.81h-6.9zM541.1 475.41h13.5v8.81h-13.5zM541.1 483.92h13.5v8.81h-13.5zM554.3 509.45h6.9v8.81h-6.9z"/>
<path fill="#ffba18" d="M871.5 58.42h6.9v8.81h-6.9zM1135.8 66.93h6.9v8.81h-6.9zM911.1 75.44h6.9v8.81h-6.9zM977.2 83.95h13.5v8.81h-13.5zM1003.6 83.95h6.9v8.81h-6.9zM1135.8 83.95h6.9v8.81h-6.9zM812.0 92.46h13.5v8.81h-13.5zM1320.8 92.46h6.9v8.81h-6.9zM356.0 100.97h6.9v8.81h-6.9zM871.5 100.97h13.5v8.81h-13.5zM897.9 100.97h6.9v8.81h-6.9zM1142.4 100.97h13.5v8.81h-13.5zM1175.4 100.97h6.9v8.81h-6.9zM1201.9 100.97h6.9v8.81h-6.9zM1228.3 100.97h13.5v8.81h-13.5zM1261.3 100.97h13.5v8.81h-13.5zM435.3 109.48h6.9v8.81h-6.9zM514.6 109.48h6.9v8.81h-6.9zM541.1 109.48h6.9v8.81h-6.9zM838.4 109.48h26.7v8.81h-26.7zM911.1 109.48h13.5v8.81h-13.5zM1116.0 109.48h13.5v8.81h-13.5zM1135.8 109.48h6.9v8.81h-6.9zM1234.9 109.48h13.5v8.81h-13.5zM1268.0 109.48h6.9v8.81h-6.9zM805.4 117.99h6.9v8.81h-6.9zM838.4 117.99h13.5v8.81h-13.5zM878.1 117.99h6.9v8.81h-6.9zM957.4 117.99h13.5v8.81h-13.5zM983.8 117.99h6.9v8.81h-6.9zM1109.4 117.99h13.5v8.81h-13.5zM1142.4 117.99h6.9v8.81h-6.9zM356.0 126.50h13.5v8.81h-13.5zM779.0 126.50h13.5v8.81h-13.5zM805.4 126.50h13.5v8.81h-13.5zM838.4 126.50h13.5v8.81h-13.5zM878.1 126.50h13.5v8.81h-13.5zM897.9 126.50h13.5v8.81h-13.5zM964.0 126.50h13.5v8.81h-13.5zM1254.7 126.50h6.9v8.81h-6.9zM356.0 135.01h13.5v8.81h-13.5zM375.9 135.01h6.9v8.81h-6.9zM1043.3 135.01h13.5v8.81h-13.5zM1063.1 135.01h13.5v8.81h-13.5zM455.2 143.52h13.5v8.81h-13.5zM970.6 143.52h6.9v8.81h-6.9zM990.4 143.52h20.1v8.81h-20.1zM1056.5 143.52h13.5v8.81h-13.5zM1082.9 143.52h6.9v8.81h-6.9zM448.6 152.03h6.9v8.81h-6.9zM461.8 152.03h6.9v8.81h-6.9zM970.6 152.03h6.9v8.81h-6.9zM990.4 152.03h13.5v8.81h-13.5zM1063.1 152.03h6.9v8.81h-6.9zM1082.9 152.03h13.5v8.81h-13.5zM382.5 160.54h6.9v8.81h-6.9zM402.3 160.54h6.9v8.81h-6.9zM1082.9 160.54h6.9v8.81h-6.9zM1089.5 169.05h20.1v8.81h-20.1zM408.9 177.56h6.9v8.81h-6.9zM1069.7 177.56h33.3v8.81h-33.3zM1162.2 177.56h6.9v8.81h-6.9zM1175.4 177.56h33.3v8.81h-33.3zM1215.1 177.56h6.9v8.81h-6.9zM1082.9 186.07h33.3v8.81h-33.3zM1188.7 186.07h13.5v8.81h-13.5zM1215.1 186.07h13.5v8.81h-13.5zM1241.5 186.07h6.9v8.81h-6.9zM1056.5 194.58h59.8v8.81h-59.8zM1215.1 194.58h13.5v8.81h-13.5zM442.0 203.09h13.5v8.81h-13.5zM1082.9 203.09h13.5v8.81h-13.5zM1122.6 203.09h13.5v8.81h-13.5zM1142.4 203.09h6.9v8.81h-6.9zM1155.6 203.09h20.1v8.81h-20.1zM1201.9 203.09h13.5v8.81h-13.5zM1254.7 203.09h6.9v8.81h-6.9zM1082.9 211.60h6.9v8.81h-6.9zM1116.0 211.60h6.9v8.81h-6.9zM1155.6 211.60h6.9v8.81h-6.9zM1168.8 211.60h13.5v8.81h-13.5zM442.0 220.11h6.9v8.81h-6.9zM461.8 220.11h6.9v8.81h-6.9zM1089.5 220.11h6.9v8.81h-6.9zM1162.2 220.11h13.5v8.81h-13.5zM481.6 228.62h6.9v8.81h-6.9zM1168.8 228.62h33.3v8.81h-33.3zM1248.1 228.62h6.9v8.81h-6.9zM481.6 237.13h6.9v8.81h-6.9zM745.9 237.13h6.9v8.81h-6.9zM759.1 237.13h33.3v8.81h-33.3zM805.4 237.13h20.1v8.81h-20.1zM845.0 237.13h20.1v8.81h-20.1zM891.3 237.13h6.9v8.81h-6.9zM1168.8 237.13h33.3v8.81h-33.3zM1248.1 237.13h6.9v8.81h-6.9zM1261.3 237.13h6.9v8.81h-6.9zM759.1 245.64h26.7v8.81h-26.7zM805.4 245.64h6.9v8.81h-6.9zM851.6 245.64h13.5v8.81h-13.5zM884.7 245.64h6.9v8.81h-6.9zM930.9 245.64h13.5v8.81h-13.5zM1082.9 245.64h13.5v8.81h-13.5zM1182.0 245.64h6.9v8.81h-6.9zM1208.5 245.64h6.9v8.81h-6.9zM541.1 254.15h6.9v8.81h-6.9zM759.1 254.15h26.7v8.81h-26.7zM884.7 254.15h6.9v8.81h-6.9zM930.9 254.15h13.5v8.81h-13.5zM1208.5 254.15h6.9v8.81h-6.9zM1248.1 254.15h6.9v8.81h-6.9zM1261.3 254.15h6.9v8.81h-6.9zM501.4 262.66h6.9v8.81h-6.9zM759.1 262.66h6.9v8.81h-6.9zM779.0 262.66h6.9v8.81h-6.9zM884.7 262.66h6.9v8.81h-6.9zM911.1 262.66h33.3v8.81h-33.3zM950.8 262.66h6.9v8.81h-6.9zM1089.5 262.66h6.9v8.81h-6.9zM1268.0 262.66h6.9v8.81h-6.9zM547.7 271.17h13.5v8.81h-13.5zM567.5 271.17h6.9v8.81h-6.9zM587.3 271.17h6.9v8.81h-6.9zM765.7 271.17h13.5v8.81h-13.5zM792.2 271.17h20.1v8.81h-20.1zM878.1 271.17h13.5v8.81h-13.5zM904.5 271.17h26.7v8.81h-26.7zM937.6 271.17h6.9v8.81h-6.9zM1241.5 271.17h6.9v8.81h-6.9zM1254.7 271.17h13.5v8.81h-13.5zM1274.6 271.17h6.9v8.81h-6.9zM547.7 279.68h6.9v8.81h-6.9zM560.9 279.68h6.9v8.81h-6.9zM574.1 279.68h13.5v8.81h-13.5zM600.5 279.68h13.5v8.81h-13.5zM825.2 279.68h6.9v8.81h-6.9zM864.9 279.68h6.9v8.81h-6.9zM911.1 279.68h6.9v8.81h-6.9zM950.8 279.68h6.9v8.81h-6.9zM1228.3 279.68h6.9v8.81h-6.9zM1248.1 279.68h6.9v8.81h-6.9zM560.9 288.19h13.5v8.81h-13.5zM607.2 288.19h13.5v8.81h-13.5zM831.8 288.19h13.5v8.81h-13.5zM858.3 288.19h6.9v8.81h-6.9zM891.3 288.19h26.7v8.81h-26.7zM937.6 288.19h13.5v8.81h-13.5zM1168.8 288.19h6.9v8.81h-6.9zM1188.7 288.19h6.9v8.81h-6.9zM1221.7 288.19h6.9v8.81h-6.9zM1241.5 288.19h6.9v8.81h-6.9zM527.9 296.70h6.9v8.81h-6.9zM547.7 296.70h6.9v8.81h-6.9zM845.0 296.70h20.1v8.81h-20.1zM871.5 296.70h6.9v8.81h-6.9zM884.7 296.70h6.9v8.81h-6.9zM904.5 296.70h6.9v8.81h-6.9zM930.9 296.70h20.1v8.81h-20.1zM970.6 296.70h6.9v8.81h-6.9zM1168.8 296.70h20.1v8.81h-20.1zM1208.5 296.70h6.9v8.81h-6.9zM1248.1 296.70h20.1v8.81h-20.1zM1281.2 296.70h6.9v8.81h-6.9zM521.2 305.21h6.9v8.81h-6.9zM845.0 305.21h13.5v8.81h-13.5zM864.9 305.21h20.1v8.81h-20.1zM891.3 305.21h6.9v8.81h-6.9zM904.5 305.21h13.5v8.81h-13.5zM924.3 305.21h13.5v8.81h-13.5zM950.8 305.21h6.9v8.81h-6.9zM1208.5 305.21h6.9v8.81h-6.9zM1248.1 305.21h20.1v8.81h-20.1zM1274.6 305.21h26.7v8.81h-26.7zM521.2 313.72h6.9v8.81h-6.9zM534.5 313.72h13.5v8.81h-13.5zM845.0 313.72h6.9v8.81h-6.9zM864.9 313.72h20.1v8.81h-20.1zM891.3 313.72h20.1v8.81h-20.1zM917.7 313.72h13.5v8.81h-13.5zM937.6 313.72h13.5v8.81h-13.5zM957.4 313.72h6.9v8.81h-6.9zM1182.0 313.72h6.9v8.81h-6.9zM1215.1 313.72h26.7v8.81h-26.7zM1261.3 313.72h6.9v8.81h-6.9zM1274.6 313.72h20.1v8.81h-20.1zM1353.9 313.72h13.5v8.81h-13.5zM521.2 322.23h6.9v8.81h-6.9zM534.5 322.23h13.5v8.81h-13.5zM554.3 322.23h6.9v8.81h-6.9zM613.8 322.23h20.1v8.81h-20.1zM640.2 322.23h6.9v8.81h-6.9zM851.6 322.23h6.9v8.81h-6.9zM864.9 322.23h33.3v8.81h-33.3zM904.5 322.23h39.9v8.81h-39.9zM950.8 322.23h6.9v8.81h-6.9zM1182.0 322.23h13.5v8.81h-13.5zM1261.3 322.23h6.9v8.81h-6.9zM1274.6 322.23h6.9v8.81h-6.9zM1287.8 322.23h6.9v8.81h-6.9zM1360.5 322.23h6.9v8.81h-6.9zM1373.7 322.23h6.9v8.81h-6.9zM527.9 330.74h6.9v8.81h-6.9zM627.0 330.74h26.7v8.81h-26.7zM851.6 330.74h53.2v8.81h-53.2zM911.1 330.74h33.3v8.81h-33.3zM950.8 330.74h6.9v8.81h-6.9zM1188.7 330.74h13.5v8.81h-13.5zM1248.1 330.74h13.5v8.81h-13.5zM1294.4 330.74h13.5v8.81h-13.5zM1373.7 330.74h6.9v8.81h-6.9zM878.1 339.25h6.9v8.81h-6.9zM891.3 339.25h6.9v8.81h-6.9zM924.3 339.25h6.9v8.81h-6.9zM944.2 339.25h13.5v8.81h-13.5zM1254.7 339.25h13.5v8.81h-13.5zM1274.6 339.25h6.9v8.81h-6.9zM1386.9 339.25h13.5v8.81h-13.5zM527.9 347.76h6.9v8.81h-6.9zM944.2 347.76h6.9v8.81h-6.9zM1274.6 347.76h6.9v8.81h-6.9zM1386.9 347.76h13.5v8.81h-13.5zM527.9 356.27h13.5v8.81h-13.5zM567.5 356.27h20.1v8.81h-20.1zM613.8 356.27h6.9v8.81h-6.9zM930.9 356.27h6.9v8.81h-6.9zM944.2 356.27h6.9v8.81h-6.9zM1261.3 356.27h6.9v8.81h-6.9zM1294.4 356.27h20.1v8.81h-20.1zM1353.9 356.27h6.9v8.81h-6.9zM1419.9 356.27h6.9v8.81h-6.9zM574.1 364.78h13.5v8.81h-13.5zM613.8 364.78h6.9v8.81h-6.9zM944.2 364.78h6.9v8.81h-6.9zM1287.8 364.78h26.7v8.81h-26.7zM1426.5 364.78h6.9v8.81h-6.9zM891.3 373.29h6.9v8.81h-6.9zM911.1 373.29h13.5v8.81h-13.5zM930.9 373.29h13.5v8.81h-13.5zM1287.8 373.29h20.1v8.81h-20.1zM864.9 381.80h6.9v8.81h-6.9zM891.3 381.80h13.5v8.81h-13.5zM930.9 381.80h6.9v8.81h-6.9zM944.2 381.80h6.9v8.81h-6.9zM897.9 390.31h13.5v8.81h-13.5zM930.9 390.31h13.5v8.81h-13.5zM884.7 398.82h26.7v8.81h-26.7zM917.7 398.82h6.9v8.81h-6.9zM1419.9 398.82h6.9v8.81h-6.9zM574.1 407.33h20.1v8.81h-20.1zM884.7 407.33h13.5v8.81h-13.5zM904.5 407.33h6.9v8.81h-6.9zM917.7 407.33h6.9v8.81h-6.9zM1234.9 407.33h20.1v8.81h-20.1zM1294.4 407.33h13.5v8.81h-13.5zM904.5 415.84h20.1v8.81h-20.1zM607.2 424.35h6.9v8.81h-6.9zM911.1 424.35h13.5v8.81h-13.5zM917.7 441.37h6.9v8.81h-6.9zM1287.8 441.37h6.9v8.81h-6.9zM1334.0 441.37h6.9v8.81h-6.9zM1367.1 441.37h6.9v8.81h-6.9zM1334.0 449.88h6.9v8.81h-6.9z"/>
<path fill="#ffff8a" d="M1426.5 75.44h6.9v8.81h-6.9z"/>
<path fill="#ffa315" d="M825.2 92.46h13.5v8.81h-13.5zM514.6 117.99h6.9v8.81h-6.9zM977.2 117.99h6.9v8.81h-6.9zM891.3 126.50h6.9v8.81h-6.9zM1069.7 143.52h13.5v8.81h-13.5zM455.2 152.03h6.9v8.81h-6.9zM1096.1 160.54h6.9v8.81h-6.9zM1102.8 177.56h13.5v8.81h-13.5zM1135.8 177.56h26.7v8.81h-26.7zM1168.8 177.56h6.9v8.81h-6.9zM1056.5 186.07h13.5v8.81h-13.5zM1116.0 186.07h13.5v8.81h-13.5zM1142.4 186.07h6.9v8.81h-6.9zM1162.2 186.07h6.9v8.81h-6.9zM1175.4 186.07h13.5v8.81h-13.5zM1208.5 186.07h6.9v8.81h-6.9zM1116.0 194.58h33.3v8.81h-33.3zM1162.2 194.58h6.9v8.81h-6.9zM1175.4 194.58h20.1v8.81h-20.1zM1201.9 194.58h13.5v8.81h-13.5zM1254.7 194.58h6.9v8.81h-6.9zM1076.3 203.09h6.9v8.81h-6.9zM1096.1 203.09h26.7v8.81h-26.7zM1175.4 203.09h6.9v8.81h-6.9zM442.0 211.60h13.5v8.81h-13.5zM1076.3 211.60h6.9v8.81h-6.9zM1096.1 211.60h20.1v8.81h-20.1zM1149.0 211.60h6.9v8.81h-6.9zM1162.2 211.60h6.9v8.81h-6.9zM1182.0 211.60h6.9v8.81h-6.9zM1175.4 220.11h20.1v8.81h-20.1zM461.8 228.62h13.5v8.81h-13.5zM468.4 237.13h6.9v8.81h-6.9zM864.9 237.13h6.9v8.81h-6.9zM1208.5 237.13h6.9v8.81h-6.9zM1254.7 237.13h6.9v8.81h-6.9zM745.9 245.64h13.5v8.81h-13.5zM792.2 245.64h13.5v8.81h-13.5zM864.9 245.64h20.1v8.81h-20.1zM917.7 245.64h13.5v8.81h-13.5zM1201.9 245.64h6.9v8.81h-6.9zM1254.7 245.64h13.5v8.81h-13.5zM752.5 254.15h6.9v8.81h-6.9zM785.6 254.15h6.9v8.81h-6.9zM805.4 254.15h6.9v8.81h-6.9zM818.6 254.15h20.1v8.81h-20.1zM864.9 254.15h20.1v8.81h-20.1zM924.3 254.15h6.9v8.81h-6.9zM1089.5 254.15h6.9v8.81h-6.9zM1201.9 254.15h6.9v8.81h-6.9zM1254.7 254.15h6.9v8.81h-6.9zM765.7 262.66h13.5v8.81h-13.5zM785.6 262.66h26.7v8.81h-26.7zM818.6 262.66h13.5v8.81h-13.5zM864.9 262.66h20.1v8.81h-20.1zM904.5 262.66h6.9v8.81h-6.9zM1261.3 262.66h6.9v8.81h-6.9zM779.0 271.17h13.5v8.81h-13.5zM858.3 271.17h20.1v8.81h-20.1zM930.9 271.17h6.9v8.81h-6.9zM944.2 271.17h13.5v8.81h-13.5zM1234.9 271.17h6.9v8.81h-6.9zM772.4 279.68h46.6v8.81h-46.6zM858.3 279.68h6.9v8.81h-6.9zM871.5 279.68h26.7v8.81h-26.7zM917.7 279.68h26.7v8.81h-26.7zM1182.0 279.68h6.9v8.81h-6.9zM1241.5 279.68h6.9v8.81h-6.9zM1268.0 279.68h6.9v8.81h-6.9zM845.0 288.19h13.5v8.81h-13.5zM864.9 288.19h20.1v8.81h-20.1zM924.3 288.19h13.5v8.81h-13.5zM1182.0 288.19h6.9v8.81h-6.9zM1228.3 288.19h13.5v8.81h-13.5zM864.9 296.70h6.9v8.81h-6.9zM878.1 296.70h6.9v8.81h-6.9zM891.3 296.70h13.5v8.81h-13.5zM911.1 296.70h6.9v8.81h-6.9zM924.3 296.70h6.9v8.81h-6.9zM1188.7 296.70h6.9v8.81h-6.9zM1215.1 296.70h26.7v8.81h-26.7zM1268.0 296.70h13.5v8.81h-13.5zM547.7 305.21h13.5v8.81h-13.5zM858.3 305.21h6.9v8.81h-6.9zM897.9 305.21h6.9v8.81h-6.9zM917.7 305.21h6.9v8.81h-6.9zM944.2 305.21h6.9v8.81h-6.9zM1215.1 305.21h26.7v8.81h-26.7zM851.6 313.72h13.5v8.81h-13.5zM911.1 313.72h6.9v8.81h-6.9zM930.9 313.72h6.9v8.81h-6.9zM1254.7 313.72h6.9v8.81h-6.9zM1301.0 313.72h6.9v8.81h-6.9zM1327.4 313.72h6.9v8.81h-6.9zM858.3 322.23h6.9v8.81h-6.9zM944.2 322.23h6.9v8.81h-6.9zM1248.1 322.23h13.5v8.81h-13.5zM1294.4 322.23h13.5v8.81h-13.5zM1367.1 322.23h6.9v8.81h-6.9zM944.2 330.74h6.9v8.81h-6.9zM1261.3 330.74h6.9v8.81h-6.9zM1314.2 330.74h6.9v8.81h-6.9zM1360.5 330.74h13.5v8.81h-13.5zM1380.3 330.74h6.9v8.81h-6.9zM1268.0 339.25h6.9v8.81h-6.9zM1287.8 339.25h6.9v8.81h-6.9zM1380.3 339.25h6.9v8.81h-6.9zM930.9 347.76h13.5v8.81h-13.5zM1248.1 347.76h26.7v8.81h-26.7zM1327.4 347.76h13.5v8.81h-13.5zM1400.1 347.76h6.9v8.81h-6.9zM937.6 356.27h6.9v8.81h-6.9zM1360.5 356.27h6.9v8.81h-6.9zM1419.9 373.29h13.5v8.81h-13.5zM1419.9 381.80h6.9v8.81h-6.9zM1413.3 398.82h6.9v8.81h-6.9zM1419.9 407.33h6.9v8.81h-6.9z"/>
<path fill="#ff8c12" d="M977.2 126.50h13.5v8.81h-13.5zM1069.7 152.03h13.5v8.81h-13.5zM1089.5 160.54h6.9v8.81h-6.9zM1116.0 177.56h20.1v8.81h-20.1zM1135.8 186.07h6.9v8.81h-6.9zM1149.0 186.07h6.9v8.81h-6.9zM1168.8 186.07h6.9v8.81h-6.9zM1201.9 186.07h6.9v8.81h-6.9zM1168.8 194.58h6.9v8.81h-6.9zM1195.3 194.58h6.9v8.81h-6.9zM1149.0 203.09h6.9v8.81h-6.9zM1182.0 203.09h20.1v8.81h-20.1zM1188.7 211.60h13.5v8.81h-13.5zM448.6 220.11h6.9v8.81h-6.9zM1109.4 220.11h13.5v8.81h-13.5zM1195.3 220.11h6.9v8.81h-6.9zM1254.7 220.11h6.9v8.81h-6.9zM475.0 228.62h6.9v8.81h-6.9zM1201.9 228.62h6.9v8.81h-6.9zM475.0 237.13h6.9v8.81h-6.9zM792.2 237.13h13.5v8.81h-13.5zM1201.9 237.13h6.9v8.81h-6.9zM792.2 254.15h13.5v8.81h-13.5zM812.0 254.15h6.9v8.81h-6.9zM851.6 254.15h6.9v8.81h-6.9zM917.7 254.15h6.9v8.81h-6.9zM812.0 262.66h6.9v8.81h-6.9zM831.8 262.66h6.9v8.81h-6.9zM845.0 262.66h6.9v8.81h-6.9zM858.3 262.66h6.9v8.81h-6.9zM818.6 271.17h6.9v8.81h-6.9zM838.4 271.17h6.9v8.81h-6.9zM851.6 271.17h6.9v8.81h-6.9zM1268.0 271.17h6.9v8.81h-6.9zM851.6 279.68h6.9v8.81h-6.9zM944.2 279.68h6.9v8.81h-6.9zM1234.9 279.68h6.9v8.81h-6.9zM884.7 288.19h6.9v8.81h-6.9zM917.7 288.19h6.9v8.81h-6.9zM917.7 296.70h6.9v8.81h-6.9zM937.6 305.21h6.9v8.81h-6.9zM1248.1 313.72h6.9v8.81h-6.9zM1294.4 313.72h6.9v8.81h-6.9zM1307.6 313.72h13.5v8.81h-13.5zM1347.2 313.72h6.9v8.81h-6.9zM1281.2 322.23h6.9v8.81h-6.9zM1307.6 322.23h20.1v8.81h-20.1zM1320.8 330.74h13.5v8.81h-13.5zM1353.9 330.74h6.9v8.81h-6.9zM1320.8 339.25h20.1v8.81h-20.1zM1353.9 339.25h6.9v8.81h-6.9zM1347.2 347.76h20.1v8.81h-20.1zM1426.5 381.80h6.9v8.81h-6.9z"/>
<path fill="#ff6e0e" d="M1129.2 186.07h6.9v8.81h-6.9zM1155.6 186.07h6.9v8.81h-6.9zM1149.0 194.58h13.5v8.81h-13.5zM455.2 220.11h6.9v8.81h-6.9zM455.2 228.62h6.9v8.81h-6.9zM1254.7 228.62h6.9v8.81h-6.9zM838.4 254.15h13.5v8.81h-13.5zM858.3 254.15h6.9v8.81h-6.9zM838.4 262.66h6.9v8.81h-6.9zM851.6 262.66h6.9v8.81h-6.9zM812.0 271.17h6.9v8.81h-6.9zM831.8 271.17h6.9v8.81h-6.9zM845.0 271.17h6.9v8.81h-6.9zM831.8 279.68h13.5v8.81h-13.5zM1320.8 313.72h6.9v8.81h-6.9zM1340.6 322.23h6.9v8.81h-6.9zM1334.0 330.74h6.9v8.81h-6.9zM1340.6 339.25h13.5v8.81h-13.5z"/>
<path fill="#fa4e0a" d="M448.6 228.62h6.9v8.81h-6.9zM845.0 279.68h6.9v8.81h-6.9zM1327.4 322.23h13.5v8.81h-13.5zM1347.2 330.74h6.9v8.81h-6.9z"/>
<path fill="#eb1e08" d="M1340.6 330.74h6.9v8.81h-6.9z"/>
</g>
<clipPath id="land"><path d="M732.7 41.40h6.6v8.51h-6.6zM1314.2 41.40h6.6v8.51h-6.6zM197.5 49.91h99.1v8.51h-99.1zM316.4 49.91h13.2v8.51h-13.2zM356.0 49.91h6.6v8.51h-6.6zM422.1 49.91h6.6v8.51h-6.6zM455.2 49.91h6.6v8.51h-6.6zM468.4 49.91h6.6v8.51h-6.6zM508.0 49.91h6.6v8.51h-6.6zM554.3 49.91h6.6v8.51h-6.6zM607.2 49.91h19.8v8.51h-19.8zM726.1 49.91h13.2v8.51h-13.2zM864.9 49.91h85.9v8.51h-85.9zM983.8 49.91h13.2v8.51h-13.2zM1003.6 49.91h6.6v8.51h-6.6zM1030.1 49.91h19.8v8.51h-19.8zM1056.5 49.91h152.0v8.51h-152.0zM1221.7 49.91h224.7v8.51h-224.7zM1459.6 49.91h6.6v8.51h-6.6zM151.2 58.42h152.0v8.51h-152.0zM309.8 58.42h13.2v8.51h-13.2zM336.2 58.42h26.4v8.51h-26.4zM389.1 58.42h6.6v8.51h-6.6zM408.9 58.42h13.2v8.51h-13.2zM455.2 58.42h6.6v8.51h-6.6zM481.6 58.42h6.6v8.51h-6.6zM494.8 58.42h13.2v8.51h-13.2zM527.9 58.42h6.6v8.51h-6.6zM567.5 58.42h13.2v8.51h-13.2zM613.8 58.42h19.8v8.51h-19.8zM666.6 58.42h6.6v8.51h-6.6zM719.5 58.42h46.3v8.51h-46.3zM845.0 58.42h356.8v8.51h-356.8zM1221.7 58.42h244.5v8.51h-244.5zM177.6 66.93h152.0v8.51h-152.0zM336.2 66.93h6.6v8.51h-6.6zM356.0 66.93h52.9v8.51h-52.9zM461.8 66.93h19.8v8.51h-19.8zM521.2 66.93h39.6v8.51h-39.6zM567.5 66.93h13.2v8.51h-13.2zM620.4 66.93h26.4v8.51h-26.4zM732.7 66.93h19.8v8.51h-19.8zM779.0 66.93h13.2v8.51h-13.2zM805.4 66.93h6.6v8.51h-6.6zM825.2 66.93h647.6v8.51h-647.6zM184.2 75.44h6.6v8.51h-6.6zM197.5 75.44h72.7v8.51h-72.7zM303.2 75.44h105.7v8.51h-105.7zM415.5 75.44h26.4v8.51h-26.4zM448.6 75.44h6.6v8.51h-6.6zM461.8 75.44h13.2v8.51h-13.2zM521.2 75.44h6.6v8.51h-6.6zM554.3 75.44h6.6v8.51h-6.6zM567.5 75.44h6.6v8.51h-6.6zM640.2 75.44h6.6v8.51h-6.6zM779.0 75.44h33.0v8.51h-33.0zM825.2 75.44h508.8v8.51h-508.8zM1340.6 75.44h13.2v8.51h-13.2zM1373.7 75.44h66.1v8.51h-66.1zM184.2 83.95h6.6v8.51h-6.6zM197.5 83.95h19.8v8.51h-19.8zM223.9 83.95h13.2v8.51h-13.2zM316.4 83.95h185.0v8.51h-185.0zM514.6 83.95h13.2v8.51h-13.2zM560.9 83.95h6.6v8.51h-6.6zM580.7 83.95h19.8v8.51h-19.8zM772.4 83.95h39.6v8.51h-39.6zM838.4 83.95h495.6v8.51h-495.6zM1380.3 83.95h26.4v8.51h-26.4zM1419.9 83.95h13.2v8.51h-13.2zM164.4 92.46h13.2v8.51h-13.2zM323.0 92.46h6.6v8.51h-6.6zM336.2 92.46h165.2v8.51h-165.2zM508.0 92.46h26.4v8.51h-26.4zM547.7 92.46h19.8v8.51h-19.8zM587.3 92.46h13.2v8.51h-13.2zM772.4 92.46h568.3v8.51h-568.3zM1380.3 92.46h19.8v8.51h-19.8zM336.2 100.97h257.7v8.51h-257.7zM600.5 100.97h6.6v8.51h-6.6zM792.2 100.97h555.1v8.51h-555.1zM349.4 109.48h244.5v8.51h-244.5zM600.5 109.48h6.6v8.51h-6.6zM792.2 109.48h198.2v8.51h-198.2zM997.0 109.48h52.9v8.51h-52.9zM1056.5 109.48h13.2v8.51h-13.2zM1076.3 109.48h244.5v8.51h-244.5zM1334.0 109.48h6.6v8.51h-6.6zM349.4 117.99h237.9v8.51h-237.9zM772.4 117.99h152.0v8.51h-152.0zM930.9 117.99h13.2v8.51h-13.2zM950.8 117.99h39.6v8.51h-39.6zM1010.2 117.99h6.6v8.51h-6.6zM1023.5 117.99h290.8v8.51h-290.8zM1327.4 117.99h19.8v8.51h-19.8zM349.4 126.50h204.8v8.51h-204.8zM779.0 126.50h46.3v8.51h-46.3zM838.4 126.50h158.6v8.51h-158.6zM1003.6 126.50h6.6v8.51h-6.6zM1023.5 126.50h19.8v8.51h-19.8zM1049.9 126.50h244.5v8.51h-244.5zM1320.8 126.50h19.8v8.51h-19.8zM356.0 135.01h26.4v8.51h-26.4zM389.1 135.01h152.0v8.51h-152.0zM706.3 135.01h6.6v8.51h-6.6zM772.4 135.01h59.5v8.51h-59.5zM838.4 135.01h13.2v8.51h-13.2zM858.3 135.01h138.8v8.51h-138.8zM1003.6 135.01h284.1v8.51h-284.1zM1320.8 135.01h13.2v8.51h-13.2zM362.7 143.52h171.8v8.51h-171.8zM779.0 143.52h92.5v8.51h-92.5zM884.7 143.52h251.1v8.51h-251.1zM1142.4 143.52h118.9v8.51h-118.9zM1268.0 143.52h19.8v8.51h-19.8zM1307.6 143.52h26.4v8.51h-26.4zM362.7 152.03h171.8v8.51h-171.8zM779.0 152.03h79.3v8.51h-79.3zM897.9 152.03h13.2v8.51h-13.2zM924.3 152.03h191.6v8.51h-191.6zM1155.6 152.03h99.1v8.51h-99.1zM1274.6 152.03h52.9v8.51h-52.9zM375.9 160.54h145.4v8.51h-145.4zM567.5 160.54h13.2v8.51h-13.2zM745.9 160.54h6.6v8.51h-6.6zM772.4 160.54h99.1v8.51h-99.1zM884.7 160.54h26.4v8.51h-26.4zM924.3 160.54h6.6v8.51h-6.6zM937.6 160.54h323.8v8.51h-323.8zM1274.6 160.54h6.6v8.51h-6.6zM1287.8 160.54h19.8v8.51h-19.8zM382.5 169.05h132.2v8.51h-132.2zM772.4 169.05h489.0v8.51h-489.0zM1287.8 169.05h6.6v8.51h-6.6zM389.1 177.56h72.7v8.51h-72.7zM475.0 177.56h13.2v8.51h-13.2zM508.0 177.56h13.2v8.51h-13.2zM745.9 177.56h6.6v8.51h-6.6zM759.1 177.56h502.2v8.51h-502.2zM1281.2 177.56h13.2v8.51h-13.2zM389.1 186.07h66.1v8.51h-66.1zM508.0 186.07h26.4v8.51h-26.4zM752.5 186.07h105.7v8.51h-105.7zM864.9 186.07h46.3v8.51h-46.3zM917.7 186.07h337.0v8.51h-337.0zM1274.6 186.07h13.2v8.51h-13.2zM395.7 194.58h59.5v8.51h-59.5zM521.2 194.58h19.8v8.51h-19.8zM752.5 194.58h112.3v8.51h-112.3zM884.7 194.58h13.2v8.51h-13.2zM917.7 194.58h19.8v8.51h-19.8zM944.2 194.58h99.1v8.51h-99.1zM1056.5 194.58h218.1v8.51h-218.1zM217.3 203.09h19.8v8.51h-19.8zM402.3 203.09h13.2v8.51h-13.2zM422.1 203.09h33.0v8.51h-33.0zM481.6 203.09h13.2v8.51h-13.2zM501.4 203.09h52.9v8.51h-52.9zM745.9 203.09h145.4v8.51h-145.4zM924.3 203.09h66.1v8.51h-66.1zM1003.6 203.09h33.0v8.51h-33.0zM1063.1 203.09h178.4v8.51h-178.4zM1248.1 203.09h13.2v8.51h-13.2zM230.5 211.60h13.2v8.51h-13.2zM422.1 211.60h39.6v8.51h-39.6zM475.0 211.60h19.8v8.51h-19.8zM501.4 211.60h59.5v8.51h-59.5zM745.9 211.60h158.6v8.51h-158.6zM917.7 211.60h72.7v8.51h-72.7zM1003.6 211.60h26.4v8.51h-26.4zM1069.7 211.60h66.1v8.51h-66.1zM1149.0 211.60h72.7v8.51h-72.7zM1254.7 211.60h6.6v8.51h-6.6zM237.1 220.11h6.6v8.51h-6.6zM428.7 220.11h66.1v8.51h-66.1zM508.0 220.11h6.6v8.51h-6.6zM521.2 220.11h66.1v8.51h-66.1zM745.9 220.11h158.6v8.51h-158.6zM917.7 220.11h112.3v8.51h-112.3zM1076.3 220.11h52.9v8.51h-52.9zM1149.0 220.11h72.7v8.51h-72.7zM1248.1 220.11h13.2v8.51h-13.2zM1340.6 220.11h6.6v8.51h-6.6zM435.3 228.62h72.7v8.51h-72.7zM580.7 228.62h13.2v8.51h-13.2zM712.9 228.62h19.8v8.51h-19.8zM745.9 228.62h158.6v8.51h-158.6zM917.7 228.62h99.1v8.51h-99.1zM1076.3 228.62h39.6v8.51h-39.6zM1155.6 228.62h59.5v8.51h-59.5zM1248.1 228.62h19.8v8.51h-19.8zM1340.6 228.62h6.6v8.51h-6.6zM468.4 237.13h39.6v8.51h-39.6zM580.7 237.13h13.2v8.51h-13.2zM719.5 237.13h13.2v8.51h-13.2zM745.9 237.13h257.7v8.51h-257.7zM1082.9 237.13h26.4v8.51h-26.4zM1168.8 237.13h46.3v8.51h-46.3zM1248.1 237.13h26.4v8.51h-26.4zM1340.6 237.13h13.2v8.51h-13.2zM1426.5 237.13h6.6v8.51h-6.6zM481.6 245.64h33.0v8.51h-33.0zM541.1 245.64h26.4v8.51h-26.4zM580.7 245.64h13.2v8.51h-13.2zM745.9 245.64h237.9v8.51h-237.9zM997.0 245.64h19.8v8.51h-19.8zM1082.9 245.64h26.4v8.51h-26.4zM1149.0 245.64h6.6v8.51h-6.6zM1168.8 245.64h46.3v8.51h-46.3zM1248.1 245.64h26.4v8.51h-26.4zM1340.6 245.64h6.6v8.51h-6.6zM494.8 254.15h13.2v8.51h-13.2zM534.5 254.15h59.5v8.51h-59.5zM745.9 254.15h257.7v8.51h-257.7zM1082.9 254.15h26.4v8.51h-26.4zM1149.0 254.15h6.6v8.51h-6.6zM1168.8 254.15h13.2v8.51h-13.2zM1188.7 254.15h26.4v8.51h-26.4zM1241.5 254.15h39.6v8.51h-39.6zM1320.8 254.15h6.6v8.51h-6.6zM1406.7 254.15h33.0v8.51h-33.0zM494.8 262.66h105.7v8.51h-105.7zM759.1 262.66h244.5v8.51h-244.5zM1076.3 262.66h6.6v8.51h-6.6zM1089.5 262.66h26.4v8.51h-26.4zM1149.0 262.66h6.6v8.51h-6.6zM1168.8 262.66h13.2v8.51h-13.2zM1188.7 262.66h19.8v8.51h-19.8zM1241.5 262.66h6.6v8.51h-6.6zM1254.7 262.66h26.4v8.51h-26.4zM1314.2 262.66h19.8v8.51h-19.8zM1360.5 262.66h13.2v8.51h-13.2zM1400.1 262.66h6.6v8.51h-6.6zM1413.3 262.66h33.0v8.51h-33.0zM501.4 271.17h105.7v8.51h-105.7zM759.1 271.17h237.9v8.51h-237.9zM1076.3 271.17h6.6v8.51h-6.6zM1102.8 271.17h13.2v8.51h-13.2zM1149.0 271.17h13.2v8.51h-13.2zM1168.8 271.17h19.8v8.51h-19.8zM1234.9 271.17h46.3v8.51h-46.3zM1301.0 271.17h6.6v8.51h-6.6zM1334.0 271.17h6.6v8.51h-6.6zM1347.2 271.17h13.2v8.51h-13.2zM1367.1 271.17h6.6v8.51h-6.6zM1380.3 271.17h19.8v8.51h-19.8zM1426.5 271.17h6.6v8.51h-6.6zM1439.8 271.17h6.6v8.51h-6.6zM521.2 279.68h105.7v8.51h-105.7zM772.4 279.68h224.7v8.51h-224.7zM1076.3 279.68h6.6v8.51h-6.6zM1102.8 279.68h13.2v8.51h-13.2zM1155.6 279.68h39.6v8.51h-39.6zM1228.3 279.68h52.9v8.51h-52.9zM1294.4 279.68h6.6v8.51h-6.6zM1373.7 279.68h6.6v8.51h-6.6zM1386.9 279.68h6.6v8.51h-6.6zM1400.1 279.68h13.2v8.51h-13.2zM1426.5 279.68h19.8v8.51h-19.8zM521.2 288.19h105.7v8.51h-105.7zM779.0 288.19h6.6v8.51h-6.6zM831.8 288.19h158.6v8.51h-158.6zM1076.3 288.19h6.6v8.51h-6.6zM1162.2 288.19h39.6v8.51h-39.6zM1208.5 288.19h39.6v8.51h-39.6zM1268.0 288.19h13.2v8.51h-13.2zM1287.8 288.19h13.2v8.51h-13.2zM1380.3 288.19h6.6v8.51h-6.6zM230.5 296.70h6.6v8.51h-6.6zM514.6 296.70h118.9v8.51h-118.9zM838.4 296.70h145.4v8.51h-145.4zM1076.3 296.70h6.6v8.51h-6.6zM1162.2 296.70h39.6v8.51h-39.6zM1208.5 296.70h79.3v8.51h-79.3zM1373.7 296.70h13.2v8.51h-13.2zM1446.4 296.70h6.6v8.51h-6.6zM475.0 305.21h6.6v8.51h-6.6zM514.6 305.21h125.6v8.51h-125.6zM831.8 305.21h145.4v8.51h-145.4zM1076.3 305.21h6.6v8.51h-6.6zM1168.8 305.21h33.0v8.51h-33.0zM1208.5 305.21h105.7v8.51h-105.7zM1419.9 305.21h6.6v8.51h-6.6zM514.6 313.72h59.5v8.51h-59.5zM580.7 313.72h79.3v8.51h-79.3zM831.8 313.72h138.8v8.51h-138.8zM1168.8 313.72h204.8v8.51h-204.8zM177.6 322.23h6.6v8.51h-6.6zM508.0 322.23h165.2v8.51h-165.2zM845.0 322.23h118.9v8.51h-118.9zM1010.2 322.23h13.2v8.51h-13.2zM1175.4 322.23h92.5v8.51h-92.5zM1274.6 322.23h105.7v8.51h-105.7zM1393.5 322.23h6.6v8.51h-6.6zM508.0 330.74h178.4v8.51h-178.4zM851.6 330.74h112.3v8.51h-112.3zM1003.6 330.74h13.2v8.51h-13.2zM1182.0 330.74h46.3v8.51h-46.3zM1248.1 330.74h26.4v8.51h-26.4zM1287.8 330.74h112.3v8.51h-112.3zM1453.0 330.74h13.2v8.51h-13.2zM290.0 339.25h6.6v8.51h-6.6zM514.6 339.25h171.8v8.51h-171.8zM752.5 339.25h13.2v8.51h-13.2zM858.3 339.25h105.7v8.51h-105.7zM1003.6 339.25h6.6v8.51h-6.6zM1016.8 339.25h6.6v8.51h-6.6zM1195.3 339.25h112.3v8.51h-112.3zM1314.2 339.25h46.3v8.51h-46.3zM1380.3 339.25h26.4v8.51h-26.4zM1459.6 339.25h13.2v8.51h-13.2zM177.6 347.76h6.6v8.51h-6.6zM217.3 347.76h6.6v8.51h-6.6zM230.5 347.76h6.6v8.51h-6.6zM296.6 347.76h6.6v8.51h-6.6zM521.2 347.76h165.2v8.51h-165.2zM858.3 347.76h105.7v8.51h-105.7zM977.2 347.76h13.2v8.51h-13.2zM997.0 347.76h6.6v8.51h-6.6zM1221.7 347.76h59.5v8.51h-59.5zM1287.8 347.76h6.6v8.51h-6.6zM1314.2 347.76h66.1v8.51h-66.1zM1386.9 347.76h26.4v8.51h-26.4zM1419.9 347.76h6.6v8.51h-6.6zM1466.2 347.76h6.6v8.51h-6.6zM177.6 356.27h6.6v8.51h-6.6zM197.5 356.27h13.2v8.51h-13.2zM217.3 356.27h6.6v8.51h-6.6zM296.6 356.27h6.6v8.51h-6.6zM521.2 356.27h158.6v8.51h-158.6zM858.3 356.27h105.7v8.51h-105.7zM970.6 356.27h6.6v8.51h-6.6zM983.8 356.27h6.6v8.51h-6.6zM997.0 356.27h6.6v8.51h-6.6zM1016.8 356.27h6.6v8.51h-6.6zM1195.3 356.27h6.6v8.51h-6.6zM1248.1 356.27h26.4v8.51h-26.4zM1287.8 356.27h26.4v8.51h-26.4zM1327.4 356.27h13.2v8.51h-13.2zM1353.9 356.27h26.4v8.51h-26.4zM1393.5 356.27h19.8v8.51h-19.8zM1419.9 356.27h6.6v8.51h-6.6zM1433.2 356.27h6.6v8.51h-6.6zM164.4 364.78h6.6v8.51h-6.6zM177.6 364.78h6.6v8.51h-6.6zM527.9 364.78h145.4v8.51h-145.4zM858.3 364.78h105.7v8.51h-105.7zM970.6 364.78h26.4v8.51h-26.4zM1162.2 364.78h6.6v8.51h-6.6zM1287.8 364.78h33.0v8.51h-33.0zM1327.4 364.78h13.2v8.51h-13.2zM1419.9 364.78h13.2v8.51h-13.2zM1459.6 364.78h6.6v8.51h-6.6zM157.8 373.29h13.2v8.51h-13.2zM177.6 373.29h13.2v8.51h-13.2zM276.8 373.29h6.6v8.51h-6.6zM527.9 373.29h145.4v8.51h-145.4zM851.6 373.29h112.3v8.51h-112.3zM977.2 373.29h19.8v8.51h-19.8zM1268.0 373.29h79.3v8.51h-79.3zM1419.9 373.29h13.2v8.51h-13.2zM151.2 381.80h6.6v8.51h-6.6zM171.0 381.80h6.6v8.51h-6.6zM250.3 381.80h39.6v8.51h-39.6zM303.2 381.80h6.6v8.51h-6.6zM534.5 381.80h138.8v8.51h-138.8zM785.6 381.80h6.6v8.51h-6.6zM851.6 381.80h112.3v8.51h-112.3zM970.6 381.80h26.4v8.51h-26.4zM1261.3 381.80h92.5v8.51h-92.5zM1419.9 381.80h13.2v8.51h-13.2zM1459.6 381.80h13.2v8.51h-13.2zM151.2 390.31h6.6v8.51h-6.6zM164.4 390.31h13.2v8.51h-13.2zM184.2 390.31h6.6v8.51h-6.6zM210.7 390.31h6.6v8.51h-6.6zM223.9 390.31h6.6v8.51h-6.6zM256.9 390.31h13.2v8.51h-13.2zM283.4 390.31h19.8v8.51h-19.8zM309.8 390.31h6.6v8.51h-6.6zM547.7 390.31h118.9v8.51h-118.9zM851.6 390.31h99.1v8.51h-99.1zM970.6 390.31h26.4v8.51h-26.4zM1254.7 390.31h99.1v8.51h-99.1zM1426.5 390.31h13.2v8.51h-13.2zM1459.6 390.31h13.2v8.51h-13.2zM151.2 398.82h6.6v8.51h-6.6zM164.4 398.82h13.2v8.51h-13.2zM223.9 398.82h13.2v8.51h-13.2zM303.2 398.82h13.2v8.51h-13.2zM554.3 398.82h112.3v8.51h-112.3zM858.3 398.82h85.9v8.51h-85.9zM970.6 398.82h26.4v8.51h-26.4zM1010.2 398.82h19.8v8.51h-19.8zM1043.3 398.82h6.6v8.51h-6.6zM1234.9 398.82h125.6v8.51h-125.6zM1406.7 398.82h33.0v8.51h-33.0zM230.5 407.33h6.6v8.51h-6.6zM250.3 407.33h13.2v8.51h-13.2zM290.0 407.33h6.6v8.51h-6.6zM309.8 407.33h13.2v8.51h-13.2zM547.7 407.33h112.3v8.51h-112.3zM864.9 407.33h79.3v8.51h-79.3zM970.6 407.33h19.8v8.51h-19.8zM1228.3 407.33h46.3v8.51h-46.3zM1281.2 407.33h85.9v8.51h-85.9zM1413.3 407.33h19.8v8.51h-19.8zM263.5 415.84h13.2v8.51h-13.2zM329.6 415.84h13.2v8.51h-13.2zM349.4 415.84h6.6v8.51h-6.6zM547.7 415.84h99.1v8.51h-99.1zM871.5 415.84h72.7v8.51h-72.7zM970.6 415.84h19.8v8.51h-19.8zM1228.3 415.84h85.9v8.51h-85.9zM1320.8 415.84h52.9v8.51h-52.9zM408.9 424.35h6.6v8.51h-6.6zM547.7 424.35h92.5v8.51h-92.5zM871.5 424.35h66.1v8.51h-66.1zM977.2 424.35h6.6v8.51h-6.6zM1228.3 424.35h39.6v8.51h-39.6zM1274.6 424.35h39.6v8.51h-39.6zM1320.8 424.35h52.9v8.51h-52.9zM276.8 432.86h6.6v8.51h-6.6zM547.7 432.86h85.9v8.51h-85.9zM871.5 432.86h66.1v8.51h-66.1zM1228.3 432.86h152.0v8.51h-152.0zM1426.5 432.86h6.6v8.51h-6.6zM547.7 441.37h85.9v8.51h-85.9zM871.5 441.37h59.5v8.51h-59.5zM1234.9 441.37h145.4v8.51h-145.4zM547.7 449.88h72.7v8.51h-72.7zM878.1 449.88h46.3v8.51h-46.3zM1234.9 449.88h138.8v8.51h-138.8zM541.1 458.39h79.3v8.51h-79.3zM878.1 458.39h33.0v8.51h-33.0zM1234.9 458.39h19.8v8.51h-19.8zM1261.3 458.39h6.6v8.51h-6.6zM1307.6 458.39h59.5v8.51h-59.5zM1446.4 458.39h6.6v8.51h-6.6zM541.1 466.90h66.1v8.51h-66.1zM765.7 466.90h6.6v8.51h-6.6zM1320.8 466.90h46.3v8.51h-46.3zM1453.0 466.90h13.2v8.51h-13.2zM541.1 475.41h59.5v8.51h-59.5zM1334.0 475.41h19.8v8.51h-19.8zM1446.4 475.41h26.4v8.51h-26.4zM534.5 483.92h46.3v8.51h-46.3zM1340.6 483.92h19.8v8.51h-19.8zM1453.0 483.92h6.6v8.51h-6.6zM534.5 492.43h39.6v8.51h-39.6zM541.1 500.94h33.0v8.51h-33.0zM534.5 509.45h33.0v8.51h-33.0zM541.1 517.96h26.4v8.51h-26.4zM587.3 517.96h13.2v8.51h-13.2zM554.3 526.47h13.2v8.51h-13.2z"/></clipPath><g clip-path="url(#land)" fill="none" stroke="#ffff78"><path stroke-width="1.4" stroke-opacity=".45" d="M151.20 38V580M157.81 38V580M164.42 38V580M171.02 38V580M177.63 38V580M184.24 38V580M190.85 38V580M197.46 38V580M204.06 38V580M210.67 38V580M217.28 38V580M223.89 38V580M230.50 38V580M237.10 38V580M243.71 38V580M250.32 38V580M256.93 38V580M263.54 38V580M270.14 38V580M276.75 38V580M283.36 38V580M289.97 38V580M296.58 38V580M303.18 38V580M309.79 38V580M316.40 38V580M323.01 38V580M329.62 38V580M336.22 38V580M342.83 38V580M349.44 38V580M356.05 38V580M362.66 38V580M369.26 38V580M375.87 38V580M382.48 38V580M389.09 38V580M395.70 38V580M402.30 38V580M408.91 38V580M415.52 38V580M422.13 38V580M428.74 38V580M435.34 38V580M441.95 38V580M448.56 38V580M455.17 38V580M461.78 38V580M468.38 38V580M474.99 38V580M481.60 38V580M488.21 38V580M494.82 38V580M501.42 38V580M508.03 38V580M514.64 38V580M521.25 38V580M527.86 38V580M534.46 38V580M541.07 38V580M547.68 38V580M554.29 38V580M560.90 38V580M567.50 38V580M574.11 38V580M580.72 38V580M587.33 38V580M593.94 38V580M600.54 38V580M607.15 38V580M613.76 38V580M620.37 38V580M626.98 38V580M633.58 38V580M640.19 38V580M646.80 38V580M653.41 38V580M660.02 38V580M666.62 38V580M673.23 38V580M679.84 38V580M686.45 38V580M693.06 38V580M699.66 38V580M706.27 38V580M712.88 38V580M719.49 38V580M726.10 38V580M732.70 38V580M739.31 38V580M745.92 38V580M752.53 38V580M759.14 38V580M765.74 38V580M772.35 38V580M778.96 38V580M785.57 38V580M792.18 38V580M798.78 38V580M805.39 38V580M812.00 38V580M818.61 38V580M825.22 38V580M831.82 38V580M838.43 38V580M845.04 38V580M851.65 38V580M858.26 38V580M864.86 38V580M871.47 38V580M878.08 38V580M884.69 38V580M891.30 38V580M897.90 38V580M904.51 38V580M911.12 38V580M917.73 38V580M924.34 38V580M930.94 38V580M937.55 38V580M944.16 38V580M950.77 38V580M957.38 38V580M963.98 38V580M970.59 38V580M977.20 38V580M983.81 38V580M990.42 38V580M997.02 38V580M1003.63 38V580M1010.24 38V580M1016.85 38V580M1023.46 38V580M1030.06 38V580M1036.67 38V580M1043.28 38V580M1049.89 38V580M1056.50 38V580M1063.10 38V580M1069.71 38V580M1076.32 38V580M1082.93 38V580M1089.54 38V580M1096.14 38V580M1102.75 38V580M1109.36 38V580M1115.97 38V580M1122.58 38V580M1129.18 38V580M1135.79 38V580M1142.40 38V580M1149.01 38V580M1155.62 38V580M1162.22 38V580M1168.83 38V580M1175.44 38V580M1182.05 38V580M1188.66 38V580M1195.26 38V580M1201.87 38V580M1208.48 38V580M1215.09 38V580M1221.70 38V580M1228.30 38V580M1234.91 38V580M1241.52 38V580M1248.13 38V580M1254.74 38V580M1261.34 38V580M1267.95 38V580M1274.56 38V580M1281.17 38V580M1287.78 38V580M1294.38 38V580M1300.99 38V580M1307.60 38V580M1314.21 38V580M1320.82 38V580M1327.42 38V580M1334.03 38V580M1340.64 38V580M1347.25 38V580M1353.86 38V580M1360.46 38V580M1367.07 38V580M1373.68 38V580M1380.29 38V580M1386.90 38V580M1393.50 38V580M1400.11 38V580M1406.72 38V580M1413.33 38V580M1419.94 38V580M1426.54 38V580M1433.15 38V580M1439.76 38V580M1446.37 38V580M1452.98 38V580M1459.58 38V580M1466.19 38V580M1472.80 38V580"/><path stroke-width="1" stroke-opacity=".22" d="M148 41.40H1476M148 49.91H1476M148 58.42H1476M148 66.93H1476M148 75.44H1476M148 83.95H1476M148 92.46H1476M148 100.97H1476M148 109.48H1476M148 117.99H1476M148 126.50H1476M148 135.01H1476M148 143.52H1476M148 152.03H1476M148 160.54H1476M148 169.05H1476M148 177.56H1476M148 186.07H1476M148 194.58H1476M148 203.09H1476M148 211.60H1476M148 220.11H1476M148 228.62H1476M148 237.13H1476M148 245.64H1476M148 254.15H1476M148 262.66H1476M148 271.17H1476M148 279.68H1476M148 288.19H1476M148 296.70H1476M148 305.21H1476M148 313.72H1476M148 322.23H1476M148 330.74H1476M148 339.25H1476M148 347.76H1476M148 356.27H1476M148 364.78H1476M148 373.29H1476M148 381.80H1476M148 390.31H1476M148 398.82H1476M148 407.33H1476M148 415.84H1476M148 424.35H1476M148 432.86H1476M148 441.37H1476M148 449.88H1476M148 458.39H1476M148 466.90H1476M148 475.41H1476M148 483.92H1476M148 492.43H1476M148 500.94H1476M148 509.45H1476M148 517.96H1476M148 526.47H1476M148 534.98H1476M148 543.49H1476M148 552.00H1476M148 560.51H1476M148 569.02H1476M148 577.53H1476"/></g><clipPath id="ice"><path d="M363.5 41.40h368.4v8.51h-368.4zM740.1 41.40h24.8v8.51h-24.8zM845.8 41.40h64.5v8.51h-64.5zM984.6 41.40h11.6v8.51h-11.6zM1017.6 41.40h44.7v8.51h-44.7zM1123.4 41.40h110.7v8.51h-110.7zM1321.6 41.40h38.0v8.51h-38.0zM152.0 49.91h5.0v8.51h-5.0zM297.4 49.91h18.2v8.51h-18.2zM330.4 49.91h24.8v8.51h-24.8zM363.5 49.91h57.9v8.51h-57.9zM429.5 49.91h24.8v8.51h-24.8zM462.6 49.91h5.0v8.51h-5.0zM475.8 49.91h31.4v8.51h-31.4zM515.4 49.91h38.0v8.51h-38.0zM561.7 49.91h5.0v8.51h-5.0zM601.3 49.91h5.0v8.51h-5.0zM627.8 49.91h97.5v8.51h-97.5zM951.6 49.91h31.4v8.51h-31.4zM997.8 49.91h5.0v8.51h-5.0zM1011.0 49.91h18.2v8.51h-18.2zM1050.7 49.91h5.0v8.51h-5.0zM1209.3 49.91h11.6v8.51h-11.6zM1447.2 49.91h11.6v8.51h-11.6zM1467.0 49.91h5.0v8.51h-5.0zM304.0 58.42h5.0v8.51h-5.0zM323.8 58.42h11.6v8.51h-11.6zM363.5 58.42h24.8v8.51h-24.8zM396.5 58.42h11.6v8.51h-11.6zM422.9 58.42h31.4v8.51h-31.4zM462.6 58.42h18.2v8.51h-18.2zM489.0 58.42h5.0v8.51h-5.0zM508.8 58.42h5.0v8.51h-5.0zM522.0 58.42h5.0v8.51h-5.0zM535.3 58.42h31.4v8.51h-31.4zM581.5 58.42h5.0v8.51h-5.0zM634.4 58.42h31.4v8.51h-31.4zM674.0 58.42h38.0v8.51h-38.0zM1202.7 58.42h18.2v8.51h-18.2zM1467.0 58.42h5.0v8.51h-5.0zM330.4 66.93h5.0v8.51h-5.0zM343.6 66.93h11.6v8.51h-11.6zM409.7 66.93h51.3v8.51h-51.3zM482.4 66.93h38.0v8.51h-38.0zM561.7 66.93h5.0v8.51h-5.0zM647.6 66.93h18.2v8.51h-18.2zM726.9 66.93h5.0v8.51h-5.0zM277.6 75.44h24.8v8.51h-24.8zM409.7 75.44h5.0v8.51h-5.0zM442.8 75.44h5.0v8.51h-5.0zM456.0 75.44h5.0v8.51h-5.0zM475.8 75.44h11.6v8.51h-11.6zM528.7 75.44h24.8v8.51h-24.8zM561.7 75.44h5.0v8.51h-5.0zM574.9 75.44h11.6v8.51h-11.6zM647.6 75.44h5.0v8.51h-5.0zM1334.8 75.44h5.0v8.51h-5.0zM1354.7 75.44h18.2v8.51h-18.2zM218.1 83.95h5.0v8.51h-5.0zM502.2 83.95h11.6v8.51h-11.6zM528.7 83.95h31.4v8.51h-31.4zM568.3 83.95h11.6v8.51h-11.6zM601.3 83.95h5.0v8.51h-5.0zM1334.8 83.95h5.0v8.51h-5.0zM1407.5 83.95h5.0v8.51h-5.0zM502.2 92.46h5.0v8.51h-5.0zM535.3 92.46h11.6v8.51h-11.6zM568.3 92.46h18.2v8.51h-18.2zM601.3 92.46h11.6v8.51h-11.6zM594.7 100.97h5.0v8.51h-5.0zM608.0 100.97h11.6v8.51h-11.6zM786.4 100.97h5.0v8.51h-5.0zM594.7 109.48h5.0v8.51h-5.0zM608.0 109.48h11.6v8.51h-11.6zM991.2 109.48h5.0v8.51h-5.0zM1050.7 109.48h5.0v8.51h-5.0zM1070.5 109.48h5.0v8.51h-5.0zM1321.6 109.48h11.6v8.51h-11.6zM945.0 117.99h5.0v8.51h-5.0zM997.8 117.99h11.6v8.51h-11.6zM1017.6 117.99h5.0v8.51h-5.0zM1315.0 117.99h11.6v8.51h-11.6zM555.1 126.50h5.0v8.51h-5.0zM1011.0 126.50h11.6v8.51h-11.6zM1044.1 126.50h5.0v8.51h-5.0zM350.2 135.01h5.0v8.51h-5.0zM383.3 135.01h5.0v8.51h-5.0zM832.6 135.01h5.0v8.51h-5.0zM852.4 135.01h5.0v8.51h-5.0zM997.8 135.01h5.0v8.51h-5.0zM356.8 143.52h5.0v8.51h-5.0zM535.3 143.52h5.0v8.51h-5.0zM713.7 143.52h5.0v8.51h-5.0zM1136.6 143.52h5.0v8.51h-5.0zM1262.1 143.52h5.0v8.51h-5.0zM1116.8 152.03h38.0v8.51h-38.0zM1328.2 152.03h5.0v8.51h-5.0zM522.0 160.54h5.0v8.51h-5.0zM1282.0 160.54h5.0v8.51h-5.0zM462.6 177.56h5.0v8.51h-5.0zM502.2 177.56h5.0v8.51h-5.0zM859.1 186.07h5.0v8.51h-5.0zM911.9 186.07h5.0v8.51h-5.0zM515.4 194.58h5.0v8.51h-5.0zM865.7 194.58h18.2v8.51h-18.2zM898.7 194.58h18.2v8.51h-18.2zM938.4 194.58h5.0v8.51h-5.0zM416.3 203.09h5.0v8.51h-5.0zM495.6 203.09h5.0v8.51h-5.0zM892.1 203.09h31.4v8.51h-31.4zM991.2 203.09h11.6v8.51h-11.6zM905.3 211.60h11.6v8.51h-11.6zM991.2 211.60h11.6v8.51h-11.6zM422.9 220.11h5.0v8.51h-5.0zM515.4 220.11h5.0v8.51h-5.0zM905.3 220.11h11.6v8.51h-11.6zM905.3 228.62h11.6v8.51h-11.6zM984.6 245.64h5.0v8.51h-5.0zM1248.9 262.66h5.0v8.51h-5.0zM1096.9 271.17h5.0v8.51h-5.0zM1440.6 288.19h5.0v8.51h-5.0zM641.0 305.21h5.0v8.51h-5.0zM1202.7 305.21h5.0v8.51h-5.0zM574.9 313.72h5.0v8.51h-5.0zM1453.8 313.72h5.0v8.51h-5.0zM674.0 322.23h5.0v8.51h-5.0zM1268.8 322.23h5.0v8.51h-5.0zM852.4 339.25h5.0v8.51h-5.0zM1361.3 339.25h18.2v8.51h-18.2zM978.0 356.27h5.0v8.51h-5.0zM1163.0 356.27h5.0v8.51h-5.0zM674.0 364.78h5.0v8.51h-5.0zM852.4 364.78h5.0v8.51h-5.0zM264.3 373.29h11.6v8.51h-11.6zM1255.5 381.80h5.0v8.51h-5.0zM667.4 390.31h5.0v8.51h-5.0zM660.8 407.33h5.0v8.51h-5.0zM859.1 407.33h5.0v8.51h-5.0zM1275.4 407.33h5.0v8.51h-5.0zM865.7 415.84h5.0v8.51h-5.0zM1315.0 415.84h5.0v8.51h-5.0zM641.0 424.35h5.0v8.51h-5.0zM865.7 424.35h5.0v8.51h-5.0zM1268.8 424.35h5.0v8.51h-5.0zM1315.0 424.35h5.0v8.51h-5.0zM1374.5 424.35h5.0v8.51h-5.0zM865.7 432.86h5.0v8.51h-5.0zM1229.1 441.37h5.0v8.51h-5.0zM621.2 449.88h5.0v8.51h-5.0zM1229.1 449.88h5.0v8.51h-5.0zM1229.1 458.39h5.0v8.51h-5.0zM1255.5 458.39h5.0v8.51h-5.0zM1440.6 458.39h5.0v8.51h-5.0zM1447.2 466.90h5.0v8.51h-5.0zM1467.0 466.90h5.0v8.51h-5.0zM581.5 483.92h5.0v8.51h-5.0zM1434.0 483.92h18.2v8.51h-18.2zM1348.0 492.43h11.6v8.51h-11.6zM1420.7 492.43h31.4v8.51h-31.4zM535.3 500.94h5.0v8.51h-5.0zM1420.7 500.94h18.2v8.51h-18.2zM568.3 509.45h5.0v8.51h-5.0zM1063.9 509.45h11.6v8.51h-11.6zM535.3 517.96h5.0v8.51h-5.0zM541.9 526.47h11.6v8.51h-11.6zM568.3 526.47h5.0v8.51h-5.0zM674.0 526.47h11.6v8.51h-11.6zM581.5 543.49h24.8v8.51h-24.8zM561.7 552.00h24.8v8.51h-24.8zM931.7 552.00h11.6v8.51h-11.6zM958.2 552.00h110.7v8.51h-110.7zM1096.9 552.00h289.2v8.51h-289.2zM310.6 560.51h104.1v8.51h-104.1zM429.5 560.51h163.6v8.51h-163.6zM753.3 560.51h685.6v8.51h-685.6zM152.0 569.02h51.3v8.51h-51.3zM211.5 569.02h1260.5v8.51h-1260.5z"/></clipPath><g clip-path="url(#ice)" fill="none" stroke="#dcdcdc"><path stroke-width="1" stroke-opacity=".3" d="M151.20 38V580M157.81 38V580M164.42 38V580M171.02 38V580M177.63 38V580M184.24 38V580M190.85 38V580M197.46 38V580M204.06 38V580M210.67 38V580M217.28 38V580M223.89 38V580M230.50 38V580M237.10 38V580M243.71 38V580M250.32 38V580M256.93 38V580M263.54 38V580M270.14 38V580M276.75 38V580M283.36 38V580M289.97 38V580M296.58 38V580M303.18 38V580M309.79 38V580M316.40 38V580M323.01 38V580M329.62 38V580M336.22 38V580M342.83 38V580M349.44 38V580M356.05 38V580M362.66 38V580M369.26 38V580M375.87 38V580M382.48 38V580M389.09 38V580M395.70 38V580M402.30 38V580M408.91 38V580M415.52 38V580M422.13 38V580M428.74 38V580M435.34 38V580M441.95 38V580M448.56 38V580M455.17 38V580M461.78 38V580M468.38 38V580M474.99 38V580M481.60 38V580M488.21 38V580M494.82 38V580M501.42 38V580M508.03 38V580M514.64 38V580M521.25 38V580M527.86 38V580M534.46 38V580M541.07 38V580M547.68 38V580M554.29 38V580M560.90 38V580M567.50 38V580M574.11 38V580M580.72 38V580M587.33 38V580M593.94 38V580M600.54 38V580M607.15 38V580M613.76 38V580M620.37 38V580M626.98 38V580M633.58 38V580M640.19 38V580M646.80 38V580M653.41 38V580M660.02 38V580M666.62 38V580M673.23 38V580M679.84 38V580M686.45 38V580M693.06 38V580M699.66 38V580M706.27 38V580M712.88 38V580M719.49 38V580M726.10 38V580M732.70 38V580M739.31 38V580M745.92 38V580M752.53 38V580M759.14 38V580M765.74 38V580M772.35 38V580M778.96 38V580M785.57 38V580M792.18 38V580M798.78 38V580M805.39 38V580M812.00 38V580M818.61 38V580M825.22 38V580M831.82 38V580M838.43 38V580M845.04 38V580M851.65 38V580M858.26 38V580M864.86 38V580M871.47 38V580M878.08 38V580M884.69 38V580M891.30 38V580M897.90 38V580M904.51 38V580M911.12 38V580M917.73 38V580M924.34 38V580M930.94 38V580M937.55 38V580M944.16 38V580M950.77 38V580M957.38 38V580M963.98 38V580M970.59 38V580M977.20 38V580M983.81 38V580M990.42 38V580M997.02 38V580M1003.63 38V580M1010.24 38V580M1016.85 38V580M1023.46 38V580M1030.06 38V580M1036.67 38V580M1043.28 38V580M1049.89 38V580M1056.50 38V580M1063.10 38V580M1069.71 38V580M1076.32 38V580M1082.93 38V580M1089.54 38V580M1096.14 38V580M1102.75 38V580M1109.36 38V580M1115.97 38V580M1122.58 38V580M1129.18 38V580M1135.79 38V580M1142.40 38V580M1149.01 38V580M1155.62 38V580M1162.22 38V580M1168.83 38V580M1175.44 38V580M1182.05 38V580M1188.66 38V580M1195.26 38V580M1201.87 38V580M1208.48 38V580M1215.09 38V580M1221.70 38V580M1228.30 38V580M1234.91 38V580M1241.52 38V580M1248.13 38V580M1254.74 38V580M1261.34 38V580M1267.95 38V580M1274.56 38V580M1281.17 38V580M1287.78 38V580M1294.38 38V580M1300.99 38V580M1307.60 38V580M1314.21 38V580M1320.82 38V580M1327.42 38V580M1334.03 38V580M1340.64 38V580M1347.25 38V580M1353.86 38V580M1360.46 38V580M1367.07 38V580M1373.68 38V580M1380.29 38V580M1386.90 38V580M1393.50 38V580M1400.11 38V580M1406.72 38V580M1413.33 38V580M1419.94 38V580M1426.54 38V580M1433.15 38V580M1439.76 38V580M1446.37 38V580M1452.98 38V580M1459.58 38V580M1466.19 38V580M1472.80 38V580"/><path stroke-width="1" stroke-opacity=".18" d="M148 41.40H1476M148 49.91H1476M148 58.42H1476M148 66.93H1476M148 75.44H1476M148 83.95H1476M148 92.46H1476M148 100.97H1476M148 109.48H1476M148 117.99H1476M148 126.50H1476M148 135.01H1476M148 143.52H1476M148 152.03H1476M148 160.54H1476M148 169.05H1476M148 177.56H1476M148 186.07H1476M148 194.58H1476M148 203.09H1476M148 211.60H1476M148 220.11H1476M148 228.62H1476M148 237.13H1476M148 245.64H1476M148 254.15H1476M148 262.66H1476M148 271.17H1476M148 279.68H1476M148 288.19H1476M148 296.70H1476M148 305.21H1476M148 313.72H1476M148 322.23H1476M148 330.74H1476M148 339.25H1476M148 347.76H1476M148 356.27H1476M148 364.78H1476M148 373.29H1476M148 381.80H1476M148 390.31H1476M148 398.82H1476M148 407.33H1476M148 415.84H1476M148 424.35H1476M148 432.86H1476M148 441.37H1476M148 449.88H1476M148 458.39H1476M148 466.90H1476M148 475.41H1476M148 483.92H1476M148 492.43H1476M148 500.94H1476M148 509.45H1476M148 517.96H1476M148 526.47H1476M148 534.98H1476M148 543.49H1476M148 552.00H1476M148 560.51H1476M148 569.02H1476M148 577.53H1476"/></g>
<!-- axis ticks -->
<g stroke="#333333" stroke-width="2.2">
<path d="M151.6 604.4v7M482.05 604.4v7M812.5 604.4v7M1142.95 604.4v7M1473.4 604.4v7"/>
<path d="M77 116h7M77 294h7M77 471.8h7"/>
</g>
<g class="tick" text-anchor="middle">
<text x="144" y="636">-200</text>
<text x="476.5" y="636">-100</text>
<text x="812.5" y="636">0</text>
<text x="1144.3" y="636">100</text>
<text x="1473.4" y="636">200</text>
</g>
<g class="tick" text-anchor="end">
<text x="71.3" y="124.5">40</text>
<text x="71.3" y="302.5">0</text>
<text x="71.3" y="480.5">-40</text>
</g>
<text class="axt" x="819.5" y="673.4" text-anchor="middle">Distance in 10<tspan font-size="18" dy="-11">5</tspan><tspan dy="11"> metres from 0° longitude</tspan></text>
<text class="axt" style="font-size:30px" transform="translate(29.9,314.7) rotate(-90)" text-anchor="middle">Distance in 10<tspan font-size="18" dy="-11">5</tspan><tspan dy="11"> metres from 0° latitude</tspan></text>
<!-- legend -->
<text class="leg" x="151.5" y="473">Language diversity on</text>
<text class="leg" x="151.5" y="506.4">logarithmic scale</text>
<rect x="151.6" y="517.3" width="238.6" height="22.7" fill="url(#lg)"/>
<g stroke="#ffffff" stroke-width="0.9">
<path d="M179 517.3v4M219.8 517.3v4M261 517.3v4M302.2 517.3v4M343.4 517.3v4M384.6 517.3v4"/><path stroke-opacity=".35" d="M179 540v-4M219.8 540v-4M261 540v-4M302.2 540v-4M343.4 540v-4M384.6 540v-4"/>
</g>
<g class="legn" text-anchor="middle">
<text x="179" y="566">0</text>
<text x="219.8" y="566">1</text>
<text x="261" y="566">2</text>
<text x="302.2" y="566">3</text>
<text x="343.4" y="566">4</text>
<text x="384.6" y="566">5</text>
</g>
</svg>
</body>
</html>
